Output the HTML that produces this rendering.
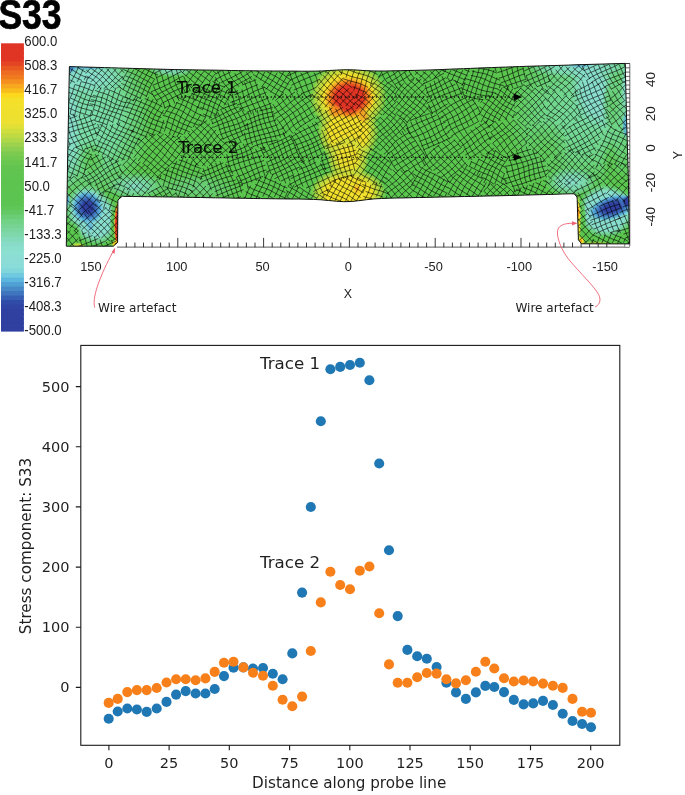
<!DOCTYPE html>
<html><head><meta charset="utf-8"><title>S33</title>
<style>html,body{margin:0;padding:0;background:#fff}svg{display:block}</style></head>
<body><svg width="685" height="795" viewBox="0 0 685 795">
<rect width="685" height="795" fill="#fff"/>
<defs><clipPath id="bc"><path d="M69.4 66.6 L76.4 66.8 L83.5 67.0 L90.5 67.2 L97.5 67.4 L104.6 67.6 L111.6 67.8 L118.6 68.0 L125.7 68.2 L132.7 68.4 L139.8 68.6 L146.8 68.8 L153.8 69.0 L160.9 69.2 L167.9 69.4 L174.9 69.6 L182.0 69.7 L189.0 69.8 L196.0 69.9 L203.1 70.0 L210.1 70.1 L217.1 70.2 L224.2 70.3 L231.2 70.5 L238.3 70.6 L245.3 70.7 L252.3 70.8 L259.4 70.9 L266.4 70.9 L273.4 71.0 L280.5 71.0 L287.5 71.1 L294.5 71.1 L301.6 71.2 L308.6 71.2 L315.6 71.1 L322.7 70.9 L329.7 70.5 L336.7 70.1 L343.8 69.8 L350.8 69.8 L357.9 70.1 L364.9 70.6 L371.9 70.9 L379.0 71.0 L386.0 71.0 L393.0 70.8 L400.1 70.7 L407.1 70.5 L414.1 70.4 L421.2 70.2 L428.2 70.0 L435.2 69.8 L442.3 69.5 L449.3 69.2 L456.3 68.9 L463.4 68.7 L470.4 68.4 L477.5 68.1 L484.5 67.8 L491.5 67.6 L498.6 67.3 L505.6 67.1 L512.6 66.8 L519.7 66.6 L526.7 66.3 L533.7 66.1 L540.8 65.9 L547.8 65.7 L554.8 65.5 L561.9 65.3 L568.9 65.1 L576.0 64.8 L583.0 64.6 L590.0 64.4 L597.1 64.2 L604.1 64.0 L611.1 63.8 L618.2 63.6 L625.2 63.4 L626.6 120.0 L628.4 180.0 L629.4 243.9 L581.6 243.8 L578.4 239.8 L577.2 199.5 L577.0 197.0 L574.2 193.8 L570.0 193.8 L562.5 194.0 L554.9 194.3 L547.4 194.5 L539.8 194.7 L532.3 194.9 L524.7 195.1 L517.2 195.3 L509.7 195.5 L502.1 195.7 L494.6 195.9 L487.0 196.0 L479.5 196.2 L471.9 196.4 L464.4 196.5 L456.9 196.7 L449.3 196.9 L441.8 197.0 L434.2 197.2 L426.7 197.4 L419.2 197.5 L411.6 197.7 L404.1 197.9 L396.5 198.0 L389.0 198.2 L381.4 198.5 L373.9 198.9 L366.4 199.7 L358.8 200.7 L351.3 201.5 L343.7 201.7 L336.2 201.2 L328.6 200.5 L321.1 199.8 L313.6 199.4 L306.0 199.2 L298.5 199.0 L290.9 199.0 L283.4 198.9 L275.8 198.8 L268.3 198.7 L260.8 198.6 L253.2 198.5 L245.7 198.3 L238.1 198.2 L230.6 198.1 L223.1 197.9 L215.5 197.8 L208.0 197.7 L200.4 197.5 L192.9 197.4 L185.3 197.3 L177.8 197.1 L170.3 197.0 L162.7 196.9 L155.2 196.8 L147.6 196.7 L140.1 196.6 L132.5 196.5 L125.0 196.4 L122.2 196.2 L117.9 200.0 L117.6 242.4 L113.3 246.2 L66.3 246.2 L67.6 160.0Z"/></clipPath><radialGradient id="g0"><stop offset="0" stop-color="#7ddfae" stop-opacity="1"/><stop offset="0.5" stop-color="#7ddfae" stop-opacity="0.8"/><stop offset="1" stop-color="#7ddfae" stop-opacity="0"/></radialGradient><radialGradient id="g1"><stop offset="0" stop-color="#8adfd2" stop-opacity="0.95"/><stop offset="0.5" stop-color="#8adfd2" stop-opacity="0.6"/><stop offset="1" stop-color="#8adfd2" stop-opacity="0"/></radialGradient><radialGradient id="g2"><stop offset="0" stop-color="#58b0dc" stop-opacity="0.9"/><stop offset="0.6" stop-color="#58b0dc" stop-opacity="0.6"/><stop offset="1" stop-color="#58b0dc" stop-opacity="0"/></radialGradient><radialGradient id="g3"><stop offset="0" stop-color="#8adfd2" stop-opacity="0.95"/><stop offset="0.5" stop-color="#8adfd2" stop-opacity="0.7"/><stop offset="1" stop-color="#8adfd2" stop-opacity="0"/></radialGradient><radialGradient id="g4"><stop offset="0" stop-color="#5ac64e" stop-opacity="0.9"/><stop offset="0.5" stop-color="#5ac64e" stop-opacity="0.6"/><stop offset="1" stop-color="#5ac64e" stop-opacity="0"/></radialGradient><radialGradient id="g5"><stop offset="0" stop-color="#8adfd2" stop-opacity="0.9"/><stop offset="0.5" stop-color="#8adfd2" stop-opacity="0.55"/><stop offset="1" stop-color="#8adfd2" stop-opacity="0"/></radialGradient><radialGradient id="g6"><stop offset="0" stop-color="#72d28a" stop-opacity="0.8"/><stop offset="0.5" stop-color="#72d28a" stop-opacity="0.5"/><stop offset="1" stop-color="#72d28a" stop-opacity="0"/></radialGradient><radialGradient id="g7"><stop offset="0" stop-color="#8adfd2" stop-opacity="0.95"/><stop offset="0.6" stop-color="#8adfd2" stop-opacity="0.55"/><stop offset="1" stop-color="#8adfd2" stop-opacity="0"/></radialGradient><radialGradient id="g8"><stop offset="0" stop-color="#58b0dc" stop-opacity="0.9"/><stop offset="0.6" stop-color="#58b0dc" stop-opacity="0.5"/><stop offset="1" stop-color="#58b0dc" stop-opacity="0"/></radialGradient><radialGradient id="g9"><stop offset="0" stop-color="#3c6cba" stop-opacity="1"/><stop offset="0.45" stop-color="#58b0dc" stop-opacity="0.9"/><stop offset="1" stop-color="#8adfd2" stop-opacity="0"/></radialGradient><radialGradient id="g10"><stop offset="0" stop-color="#7ddfae" stop-opacity="0.9"/><stop offset="0.5" stop-color="#7ddfae" stop-opacity="0.6"/><stop offset="1" stop-color="#7ddfae" stop-opacity="0"/></radialGradient><radialGradient id="g11"><stop offset="0" stop-color="#8adfd2" stop-opacity="1"/><stop offset="0.55" stop-color="#8adfd2" stop-opacity="0.85"/><stop offset="1" stop-color="#8adfd2" stop-opacity="0"/></radialGradient><radialGradient id="g12"><stop offset="0" stop-color="#8adfd2" stop-opacity="1"/><stop offset="0.5" stop-color="#8adfd2" stop-opacity="0.7"/><stop offset="1" stop-color="#8adfd2" stop-opacity="0"/></radialGradient><radialGradient id="g13"><stop offset="0" stop-color="#8adfd2" stop-opacity="0.95"/><stop offset="0.6" stop-color="#8adfd2" stop-opacity="0.6"/><stop offset="1" stop-color="#8adfd2" stop-opacity="0"/></radialGradient><radialGradient id="g14"><stop offset="0" stop-color="#58b0dc" stop-opacity="0.9"/><stop offset="0.6" stop-color="#58b0dc" stop-opacity="0.5"/><stop offset="1" stop-color="#58b0dc" stop-opacity="0"/></radialGradient><radialGradient id="g15"><stop offset="0" stop-color="#8adfd2" stop-opacity="0.95"/><stop offset="0.5" stop-color="#8adfd2" stop-opacity="0.65"/><stop offset="1" stop-color="#8adfd2" stop-opacity="0"/></radialGradient><radialGradient id="g16"><stop offset="0" stop-color="#62cc66" stop-opacity="0.95"/><stop offset="0.6" stop-color="#62cc66" stop-opacity="0.65"/><stop offset="1" stop-color="#62cc66" stop-opacity="0"/></radialGradient><radialGradient id="g17"><stop offset="0" stop-color="#58b0dc" stop-opacity="1"/><stop offset="0.6" stop-color="#58b0dc" stop-opacity="0.7"/><stop offset="1" stop-color="#8adfd2" stop-opacity="0"/></radialGradient><radialGradient id="g18"><stop offset="0" stop-color="#5ac64e" stop-opacity="0.9"/><stop offset="0.6" stop-color="#5ac64e" stop-opacity="0.55"/><stop offset="1" stop-color="#5ac64e" stop-opacity="0"/></radialGradient><radialGradient id="g19"><stop offset="0" stop-color="#5ac64e" stop-opacity="0.7"/><stop offset="0.6" stop-color="#5ac64e" stop-opacity="0.4"/><stop offset="1" stop-color="#5ac64e" stop-opacity="0"/></radialGradient><radialGradient id="g20"><stop offset="0" stop-color="#8adfd2" stop-opacity="1"/><stop offset="0.7" stop-color="#8adfd2" stop-opacity="0.95"/><stop offset="1" stop-color="#8adfd2" stop-opacity="0"/></radialGradient><radialGradient id="g21"><stop offset="0" stop-color="#3040a0" stop-opacity="1"/><stop offset="0.27" stop-color="#3040a0" stop-opacity="1"/><stop offset="0.48" stop-color="#3c6cba" stop-opacity="1"/><stop offset="0.72" stop-color="#58b0dc" stop-opacity="0.95"/><stop offset="1" stop-color="#8adfd2" stop-opacity="0"/></radialGradient><radialGradient id="g22"><stop offset="0" stop-color="#58b0dc" stop-opacity="0.8"/><stop offset="0.5" stop-color="#58b0dc" stop-opacity="0.5"/><stop offset="1" stop-color="#8adfd2" stop-opacity="0"/></radialGradient><radialGradient id="g23"><stop offset="0" stop-color="#3c6cba" stop-opacity="1"/><stop offset="0.5" stop-color="#58b0dc" stop-opacity="0.9"/><stop offset="1" stop-color="#8adfd2" stop-opacity="0"/></radialGradient><radialGradient id="g24"><stop offset="0" stop-color="#5ac64e" stop-opacity="1"/><stop offset="0.6" stop-color="#5ac64e" stop-opacity="0.8"/><stop offset="1" stop-color="#5ac64e" stop-opacity="0"/></radialGradient><radialGradient id="g25"><stop offset="0" stop-color="#5ac64e" stop-opacity="1"/><stop offset="0.6" stop-color="#5ac64e" stop-opacity="0.8"/><stop offset="1" stop-color="#5ac64e" stop-opacity="0"/></radialGradient><radialGradient id="g26"><stop offset="0" stop-color="#8adfd2" stop-opacity="1"/><stop offset="0.72" stop-color="#8adfd2" stop-opacity="0.95"/><stop offset="1" stop-color="#8adfd2" stop-opacity="0"/></radialGradient><radialGradient id="g27"><stop offset="0" stop-color="#3040a0" stop-opacity="1"/><stop offset="0.3" stop-color="#3040a0" stop-opacity="1"/><stop offset="0.52" stop-color="#3c6cba" stop-opacity="1"/><stop offset="0.76" stop-color="#58b0dc" stop-opacity="0.95"/><stop offset="1" stop-color="#8adfd2" stop-opacity="0"/></radialGradient><radialGradient id="g28"><stop offset="0" stop-color="#3040a0" stop-opacity="1"/><stop offset="0.45" stop-color="#3040a0" stop-opacity="1"/><stop offset="0.75" stop-color="#3c6cba" stop-opacity="0.9"/><stop offset="1" stop-color="#58b0dc" stop-opacity="0"/></radialGradient><radialGradient id="g29"><stop offset="0" stop-color="#5ac64e" stop-opacity="1"/><stop offset="0.6" stop-color="#5ac64e" stop-opacity="0.8"/><stop offset="1" stop-color="#5ac64e" stop-opacity="0"/></radialGradient><radialGradient id="g30"><stop offset="0" stop-color="#5ac64e" stop-opacity="1"/><stop offset="0.6" stop-color="#5ac64e" stop-opacity="0.8"/><stop offset="1" stop-color="#5ac64e" stop-opacity="0"/></radialGradient><radialGradient id="g31"><stop offset="0" stop-color="#5ac64e" stop-opacity="0.9"/><stop offset="0.6" stop-color="#5ac64e" stop-opacity="0.6"/><stop offset="1" stop-color="#5ac64e" stop-opacity="0"/></radialGradient><radialGradient id="g32"><stop offset="0" stop-color="#f2e02c" stop-opacity="1"/><stop offset="0.62" stop-color="#f2e02c" stop-opacity="1"/><stop offset="0.82" stop-color="#c6dc3e" stop-opacity="0.8"/><stop offset="1" stop-color="#c6dc3e" stop-opacity="0"/></radialGradient><radialGradient id="g33"><stop offset="0" stop-color="#f2e02c" stop-opacity="1"/><stop offset="0.6" stop-color="#f2e02c" stop-opacity="1"/><stop offset="0.82" stop-color="#c6dc3e" stop-opacity="0.75"/><stop offset="1" stop-color="#c6dc3e" stop-opacity="0"/></radialGradient><radialGradient id="g34"><stop offset="0" stop-color="#f2e02c" stop-opacity="1"/><stop offset="0.45" stop-color="#f2e02c" stop-opacity="0.9"/><stop offset="0.8" stop-color="#c6dc3e" stop-opacity="0.7"/><stop offset="1" stop-color="#c6dc3e" stop-opacity="0"/></radialGradient><radialGradient id="g35"><stop offset="0" stop-color="#f2e02c" stop-opacity="1"/><stop offset="0.6" stop-color="#f2e02c" stop-opacity="1"/><stop offset="0.82" stop-color="#c6dc3e" stop-opacity="0.8"/><stop offset="1" stop-color="#c6dc3e" stop-opacity="0"/></radialGradient><radialGradient id="g36"><stop offset="0" stop-color="#e03424" stop-opacity="1"/><stop offset="0.52" stop-color="#e03424" stop-opacity="1"/><stop offset="0.74" stop-color="#f59020" stop-opacity="1"/><stop offset="1" stop-color="#f2e02c" stop-opacity="0"/></radialGradient><radialGradient id="g37"><stop offset="0" stop-color="#f59020" stop-opacity="0.9"/><stop offset="0.5" stop-color="#f59020" stop-opacity="0.6"/><stop offset="1" stop-color="#f2e02c" stop-opacity="0"/></radialGradient><radialGradient id="g38"><stop offset="0" stop-color="#f59020" stop-opacity="0.8"/><stop offset="0.5" stop-color="#f59020" stop-opacity="0.5"/><stop offset="1" stop-color="#f2e02c" stop-opacity="0"/></radialGradient><radialGradient id="g39"><stop offset="0" stop-color="#f59020" stop-opacity="0.9"/><stop offset="1" stop-color="#f2e02c" stop-opacity="0"/></radialGradient><radialGradient id="g40"><stop offset="0" stop-color="#e03424" stop-opacity="1"/><stop offset="0.5" stop-color="#e03424" stop-opacity="1"/><stop offset="0.75" stop-color="#f59020" stop-opacity="0.9"/><stop offset="1" stop-color="#f2e02c" stop-opacity="0"/></radialGradient><radialGradient id="g41"><stop offset="0" stop-color="#f59020" stop-opacity="1"/><stop offset="0.5" stop-color="#f2e02c" stop-opacity="1"/><stop offset="1" stop-color="#f2e02c" stop-opacity="0"/></radialGradient><radialGradient id="g42"><stop offset="0" stop-color="#f2e02c" stop-opacity="1"/><stop offset="0.5" stop-color="#c6dc3e" stop-opacity="0.85"/><stop offset="1" stop-color="#c6dc3e" stop-opacity="0"/></radialGradient><radialGradient id="g43"><stop offset="0" stop-color="#f2e02c" stop-opacity="1"/><stop offset="0.6" stop-color="#f2e02c" stop-opacity="1"/><stop offset="1" stop-color="#c6dc3e" stop-opacity="0"/></radialGradient><radialGradient id="g44"><stop offset="0" stop-color="#f59020" stop-opacity="1"/><stop offset="0.6" stop-color="#f59020" stop-opacity="0.9"/><stop offset="1" stop-color="#f2e02c" stop-opacity="0"/></radialGradient><radialGradient id="g45"><stop offset="0" stop-color="#f59020" stop-opacity="1"/><stop offset="0.5" stop-color="#f2e02c" stop-opacity="1"/><stop offset="1" stop-color="#f2e02c" stop-opacity="0"/></radialGradient><radialGradient id="g46"><stop offset="0" stop-color="#f2e02c" stop-opacity="1"/><stop offset="0.5" stop-color="#c6dc3e" stop-opacity="0.85"/><stop offset="1" stop-color="#c6dc3e" stop-opacity="0"/></radialGradient><radialGradient id="g47"><stop offset="0" stop-color="#c6dc3e" stop-opacity="1"/><stop offset="1" stop-color="#c6dc3e" stop-opacity="0"/></radialGradient></defs>
<rect x="1" y="43.30" width="22.9" height="6.00" fill="#e03424"/><rect x="1" y="47.80" width="22.9" height="6.00" fill="#e03424"/><rect x="1" y="52.31" width="22.9" height="6.00" fill="#e03424"/><rect x="1" y="56.81" width="22.9" height="6.00" fill="#e03424"/><rect x="1" y="61.32" width="22.9" height="6.00" fill="#e44423"/><rect x="1" y="65.82" width="22.9" height="6.00" fill="#ea5822"/><rect x="1" y="70.33" width="22.9" height="6.00" fill="#ee6c22"/><rect x="1" y="74.83" width="22.9" height="6.00" fill="#f07a20"/><rect x="1" y="79.34" width="22.9" height="6.00" fill="#f59020"/><rect x="1" y="83.84" width="22.9" height="6.00" fill="#f8a820"/><rect x="1" y="88.35" width="22.9" height="6.00" fill="#f8bd1c"/><rect x="1" y="92.85" width="22.9" height="6.00" fill="#fbd81c"/><rect x="1" y="97.36" width="22.9" height="6.00" fill="#f5df29"/><rect x="1" y="101.86" width="22.9" height="6.00" fill="#f3e02b"/><rect x="1" y="106.37" width="22.9" height="6.00" fill="#f1e02d"/><rect x="1" y="110.87" width="22.9" height="6.00" fill="#efe02e"/><rect x="1" y="115.38" width="22.9" height="6.00" fill="#eee02f"/><rect x="1" y="119.88" width="22.9" height="6.00" fill="#ede030"/><rect x="1" y="124.38" width="22.9" height="6.00" fill="#e1e036"/><rect x="1" y="128.89" width="22.9" height="6.00" fill="#cfdd3d"/><rect x="1" y="133.39" width="22.9" height="6.00" fill="#bfda43"/><rect x="1" y="137.90" width="22.9" height="6.00" fill="#afd848"/><rect x="1" y="142.40" width="22.9" height="6.00" fill="#9dd24e"/><rect x="1" y="146.91" width="22.9" height="6.00" fill="#8bce50"/><rect x="1" y="151.41" width="22.9" height="6.00" fill="#7ccb50"/><rect x="1" y="155.92" width="22.9" height="6.00" fill="#71c950"/><rect x="1" y="160.42" width="22.9" height="6.00" fill="#69c750"/><rect x="1" y="164.93" width="22.9" height="6.00" fill="#63c550"/><rect x="1" y="169.43" width="22.9" height="6.00" fill="#60c450"/><rect x="1" y="173.94" width="22.9" height="6.00" fill="#5fc450"/><rect x="1" y="178.44" width="22.9" height="6.00" fill="#5ec450"/><rect x="1" y="182.95" width="22.9" height="6.00" fill="#5dc450"/><rect x="1" y="187.45" width="22.9" height="6.00" fill="#5cc450"/><rect x="1" y="191.95" width="22.9" height="6.00" fill="#5cc450"/><rect x="1" y="196.46" width="22.9" height="6.00" fill="#5cc450"/><rect x="1" y="200.96" width="22.9" height="6.00" fill="#5cc450"/><rect x="1" y="205.47" width="22.9" height="6.00" fill="#5fc658"/><rect x="1" y="209.97" width="22.9" height="6.00" fill="#64c865"/><rect x="1" y="214.48" width="22.9" height="6.00" fill="#6bcd75"/><rect x="1" y="218.98" width="22.9" height="6.00" fill="#71d184"/><rect x="1" y="223.49" width="22.9" height="6.00" fill="#76d391"/><rect x="1" y="227.99" width="22.9" height="6.00" fill="#7ad59f"/><rect x="1" y="232.50" width="22.9" height="6.00" fill="#7fd7ac"/><rect x="1" y="237.00" width="22.9" height="6.00" fill="#83daba"/><rect x="1" y="241.51" width="22.9" height="6.00" fill="#88dcc7"/><rect x="1" y="246.01" width="22.9" height="6.00" fill="#8adecc"/><rect x="1" y="250.52" width="22.9" height="6.00" fill="#8ce0d1"/><rect x="1" y="255.02" width="22.9" height="6.00" fill="#8cded4"/><rect x="1" y="259.53" width="22.9" height="6.00" fill="#8cdcd8"/><rect x="1" y="264.03" width="22.9" height="6.00" fill="#89dcd8"/><rect x="1" y="268.53" width="22.9" height="6.00" fill="#80d6db"/><rect x="1" y="273.04" width="22.9" height="6.00" fill="#6fc9df"/><rect x="1" y="277.54" width="22.9" height="6.00" fill="#5db6dd"/><rect x="1" y="282.05" width="22.9" height="6.00" fill="#50a0d4"/><rect x="1" y="286.55" width="22.9" height="6.00" fill="#488ac8"/><rect x="1" y="291.06" width="22.9" height="6.00" fill="#3f75be"/><rect x="1" y="295.56" width="22.9" height="6.00" fill="#365eb3"/><rect x="1" y="300.07" width="22.9" height="6.00" fill="#314ba9"/><rect x="1" y="304.57" width="22.9" height="6.00" fill="#3044a4"/><rect x="1" y="309.08" width="22.9" height="6.00" fill="#3040a0"/><rect x="1" y="313.58" width="22.9" height="6.00" fill="#3040a0"/><rect x="1" y="318.09" width="22.9" height="6.00" fill="#3040a0"/><rect x="1" y="322.59" width="22.9" height="6.00" fill="#3040a0"/><rect x="1" y="327.10" width="22.9" height="4.50" fill="#3040a0"/><g font-family="'Liberation Sans',sans-serif" font-size="14.4px" fill="#1c1c1c"><text transform="translate(24.3 45.9) scale(0.915 1)">600.0</text><text transform="translate(24.3 70.0) scale(0.915 1)">508.3</text><text transform="translate(24.3 94.1) scale(0.915 1)">416.7</text><text transform="translate(24.3 118.3) scale(0.915 1)">325.0</text><text transform="translate(24.3 142.4) scale(0.915 1)">233.3</text><text transform="translate(24.3 166.5) scale(0.915 1)">141.7</text><text transform="translate(24.3 190.6) scale(0.915 1)">50.0</text><text transform="translate(24.3 214.7) scale(0.915 1)">-41.7</text><text transform="translate(24.3 238.9) scale(0.915 1)">-133.3</text><text transform="translate(24.3 263.0) scale(0.915 1)">-225.0</text><text transform="translate(24.3 287.1) scale(0.915 1)">-316.7</text><text transform="translate(24.3 311.2) scale(0.915 1)">-408.3</text><text transform="translate(24.3 335.3) scale(0.915 1)">-500.0</text></g>
<text transform="translate(-1.6 28.7) scale(0.85 1)" font-family="'Liberation Sans',sans-serif" font-weight="bold" font-size="41.8px" fill="#000" stroke="#000" stroke-width="0.7">S33</text>
<path d="M117 247.2H629" stroke="#777" stroke-width="1.2" fill="none"/><path d="M126.3 247.3v-4.7M134.9 247.3v-4.7M143.5 247.3v-4.7M152.1 247.3v-4.7M160.6 247.3v-4.7M169.2 247.3v-4.7M177.8 247.3v-9.4M186.4 247.3v-4.7M195.0 247.3v-4.7M203.5 247.3v-4.7M212.1 247.3v-4.7M220.7 247.3v-4.7M229.3 247.3v-4.7M237.9 247.3v-4.7M246.4 247.3v-4.7M255.0 247.3v-4.7M263.6 247.3v-9.4M272.2 247.3v-4.7M280.8 247.3v-4.7M289.3 247.3v-4.7M297.9 247.3v-4.7M306.5 247.3v-4.7M315.1 247.3v-4.7M323.7 247.3v-4.7M332.2 247.3v-4.7M340.8 247.3v-4.7M349.4 247.3v-9.4M358.0 247.3v-4.7M366.6 247.3v-4.7M375.1 247.3v-4.7M383.7 247.3v-4.7M392.3 247.3v-4.7M400.9 247.3v-4.7M409.5 247.3v-4.7M418.0 247.3v-4.7M426.6 247.3v-4.7M435.2 247.3v-9.4M443.8 247.3v-4.7M452.4 247.3v-4.7M460.9 247.3v-4.7M469.5 247.3v-4.7M478.1 247.3v-4.7M486.7 247.3v-4.7M495.3 247.3v-4.7M503.8 247.3v-4.7M512.4 247.3v-4.7M521.0 247.3v-9.4M529.6 247.3v-4.7M538.2 247.3v-4.7M546.7 247.3v-4.7M555.3 247.3v-4.7M563.9 247.3v-4.7M572.5 247.3v-4.7M581.1 247.3v-4.7M589.6 247.3v-4.7M598.2 247.3v-4.7M606.8 247.3v-9.4" stroke="#222" stroke-width="0.9" fill="none"/><path d="M625.2 63.5V246M629.8 63.5V246M625.2 63.5h4.6M625.2 63.5h4.6M625.2 67.8h4.6M625.2 72.1h4.6M625.2 76.4h4.6M625.2 80.7h4.6M625.2 85.0h4.6M625.2 89.3h4.6M625.2 93.6h4.6M625.2 97.9h4.6M625.2 102.2h4.6M625.2 106.5h4.6M625.2 110.8h4.6M625.2 115.1h4.6M625.2 119.4h4.6M625.2 123.7h4.6M625.2 128.0h4.6M625.2 132.3h4.6M625.2 136.6h4.6M625.2 140.9h4.6M625.2 145.2h4.6M625.2 149.5h4.6M625.2 153.8h4.6M625.2 158.1h4.6M625.2 162.4h4.6M625.2 166.7h4.6M625.2 171.0h4.6M625.2 175.3h4.6M625.2 179.6h4.6M625.2 183.9h4.6M625.2 188.2h4.6M625.2 192.5h4.6M625.2 196.8h4.6M625.2 201.1h4.6M625.2 205.4h4.6M625.2 209.7h4.6M625.2 214.0h4.6M625.2 218.3h4.6M625.2 222.6h4.6M625.2 226.9h4.6M625.2 231.2h4.6M625.2 235.5h4.6M625.2 239.8h4.6M625.2 244.1h4.6" stroke="#333" stroke-width="0.75" fill="none"/><rect x="624.8" y="243.6" width="4.6" height="3.6" fill="#fff" stroke="#777" stroke-width="0.8"/>
<g clip-path="url(#bc)"><rect x="60" y="55" width="580" height="200" fill="#5ac64e"/><ellipse cx="88" cy="115" rx="64" ry="88" fill="url(#g0)"/><ellipse cx="88" cy="76" rx="46" ry="21" fill="url(#g1)"/><ellipse cx="86" cy="67" rx="24" ry="3.2" fill="url(#g2)"/><ellipse cx="69" cy="125" rx="13" ry="70" fill="url(#g3)"/><ellipse cx="92" cy="160" rx="14" ry="20" fill="url(#g4)"/><ellipse cx="135" cy="186" rx="30" ry="14" fill="url(#g5)"/><ellipse cx="195" cy="188" rx="45" ry="15" fill="url(#g6)"/><ellipse cx="172" cy="69" rx="24" ry="8" fill="url(#g7)"/><ellipse cx="166" cy="67" rx="9" ry="3.5" fill="url(#g8)"/><ellipse cx="70.5" cy="68" rx="8" ry="7" fill="url(#g9)"/><ellipse cx="585" cy="115" rx="80" ry="80" fill="url(#g10)"/><ellipse cx="596" cy="94" rx="24" ry="40" fill="url(#g11)" transform="rotate(-22 596 94)"/><ellipse cx="625" cy="88" rx="4" ry="30" fill="url(#g12)"/><ellipse cx="580" cy="67" rx="55" ry="11" fill="url(#g13)"/><ellipse cx="580" cy="64.5" rx="13" ry="4" fill="url(#g14)"/><ellipse cx="571" cy="182" rx="26" ry="15" fill="url(#g15)"/><ellipse cx="612" cy="104" rx="10" ry="30" fill="url(#g16)"/><ellipse cx="625.5" cy="125" rx="3.5" ry="15" fill="url(#g17)"/><ellipse cx="611" cy="165" rx="9" ry="26" fill="url(#g18)"/><ellipse cx="548" cy="150" rx="22" ry="30" fill="url(#g19)"/><ellipse cx="92" cy="215" rx="25" ry="32" fill="url(#g20)" transform="rotate(-30 92 215)"/><ellipse cx="87.5" cy="207.5" rx="17" ry="19" fill="url(#g21)" transform="rotate(-30 87.5 207.5)"/><ellipse cx="90" cy="226" rx="5" ry="7" fill="url(#g22)" transform="rotate(-20 90 226)"/><ellipse cx="66" cy="200" rx="5" ry="9" fill="url(#g23)"/><ellipse cx="113.5" cy="225" rx="3.5" ry="24" fill="url(#g24)"/><ellipse cx="73" cy="234" rx="9" ry="14" fill="url(#g25)"/><ellipse cx="606" cy="211" rx="29" ry="27" fill="url(#g26)"/><ellipse cx="612" cy="207.5" rx="26" ry="13" fill="url(#g27)" transform="rotate(-16 612 207.5)"/><ellipse cx="628" cy="202" rx="8" ry="6.5" fill="url(#g28)"/><ellipse cx="582.5" cy="222" rx="4" ry="26" fill="url(#g29)"/><ellipse cx="604" cy="242" rx="30" ry="7" fill="url(#g30)"/><ellipse cx="617" cy="180" rx="14" ry="11" fill="url(#g31)"/><ellipse cx="348" cy="97" rx="39" ry="36" fill="url(#g32)"/><ellipse cx="348" cy="132" rx="31" ry="34" fill="url(#g33)"/><ellipse cx="348" cy="160" rx="21" ry="24" fill="url(#g34)"/><ellipse cx="348" cy="192" rx="38" ry="24" fill="url(#g35)"/><ellipse cx="349" cy="98" rx="27" ry="23" fill="url(#g36)"/><ellipse cx="335" cy="112" rx="9" ry="8" fill="url(#g37)"/><ellipse cx="363" cy="116" rx="8" ry="8" fill="url(#g38)"/><ellipse cx="357" cy="189" rx="5" ry="7" fill="url(#g39)"/><ellipse cx="117.4" cy="226" rx="3.6" ry="25" fill="url(#g40)"/><ellipse cx="116" cy="244" rx="5" ry="4" fill="url(#g41)"/><ellipse cx="78" cy="246.5" rx="8" ry="4.5" fill="url(#g42)"/><ellipse cx="578" cy="220" rx="3.2" ry="27" fill="url(#g43)"/><ellipse cx="577.5" cy="212" rx="2.5" ry="8" fill="url(#g44)"/><ellipse cx="581" cy="241" rx="4" ry="5" fill="url(#g45)"/><ellipse cx="596" cy="245.5" rx="20" ry="4.5" fill="url(#g46)"/><ellipse cx="615" cy="245" rx="6" ry="3" fill="url(#g47)"/><path d="M101.2 87.5 98.8 92.3 97.0 96.7 95.7 101.0 94.6 105.2 93.3 109.7 91.8 114.6M105.4 89.1 103.3 93.6 101.8 98.0 100.8 102.4 99.7 106.9 98.2 111.6 96.4 116.5 94.5 121.0M109.7 90.5 108.0 95.2 106.7 99.9 105.6 104.5 104.3 109.0 102.6 113.4 100.6 117.9 98.7 122.1M116.0 87.7 114.2 92.4 112.5 97.5 111.2 102.4 110.0 106.7 108.4 110.7 106.4 114.7 104.4 118.9 102.7 123.3M120.6 89.6 118.7 94.7 117.0 99.9 115.4 104.5 113.9 108.4 112.2 112.0 110.2 115.9 108.3 120.4 106.8 125.1M123.2 97.0 121.2 101.8 119.5 105.9 117.9 109.5 116.2 113.2 114.3 117.6 112.6 122.6M127.6 98.5 125.6 103.1 123.9 106.9 122.3 110.7 120.7 114.9 119.0 119.9 117.3 125.1M105.8 88.9 110.2 90.3 114.7 92.2 119.2 94.5 123.7 96.7 128.1 98.3M95.1 90.4 99.3 92.0 103.8 93.3 108.4 95.0 113.0 97.3 117.4 99.7 121.7 101.6 126.1 102.8M92.9 95.3 97.5 96.5 102.3 97.8 107.1 99.8 111.6 102.2 115.8 104.3 120.0 105.7 124.3 106.7 129.0 108.0M91.2 99.6 96.1 100.7 101.2 102.2 106.0 104.4 110.4 106.6 114.3 108.2 118.4 109.3 122.8 110.5 127.6 112.1M89.8 103.7 95.0 104.9 100.1 106.7 104.7 108.8 108.8 110.6 112.6 111.8 116.6 113.0 121.2 114.7 126.1 116.7M93.8 109.5 98.7 111.4 103.0 113.2 106.8 114.5 110.6 115.7 114.8 117.4 119.4 119.7 124.4 121.9M92.2 114.4 96.9 116.2 101.0 117.6 104.8 118.7 108.7 120.2 113.1 122.4M95.0 120.8 99.1 121.9 103.1 123.1 107.2 125.0M531.0 149.2 526.0 150.7 521.1 152.3 516.2 154.0 511.6 155.6 507.2 157.0M537.4 152.6 532.8 154.0 528.2 155.5 523.5 156.9 518.6 158.2 513.7 159.5 508.7 160.7M538.9 157.2 534.6 158.5 530.3 159.9 525.8 161.3 520.9 162.8 515.6 164.1 510.1 165.4 504.7 166.5M544.6 161.1 540.2 162.0 536.0 163.0 531.8 164.3 527.3 165.8 522.3 167.6 516.9 169.3 511.3 170.9 506.0 172.3M545.9 165.9 541.3 167.0 536.8 168.0 532.4 169.2 527.8 170.7 522.9 172.5 517.8 174.5 512.7 176.3 507.7 177.9 503.0 179.1M547.7 170.2 542.7 171.7 537.7 173.1 532.9 174.5 528.2 176.0 523.5 177.6 519.0 179.3 514.4 180.9 509.8 182.4 505.1 183.7M544.5 176.4 539.1 178.0 534.1 179.6 529.4 181.2 525.1 182.7 520.8 184.1 516.5 185.4 511.8 186.5M518.5 190.1 513.6 191.4M540.4 158.1 541.6 163.1 542.8 167.9 544.5 172.5 546.4 177.4M532.7 150.1 534.5 154.9 536.1 159.3 537.3 164.0 538.2 169.0 539.3 174.0 541.0 178.9M526.2 146.5 527.8 151.6 530.0 156.3 531.9 160.7 533.1 165.1 533.7 170.2 534.3 175.5 535.8 180.5M521.1 148.3 522.9 153.1 525.4 157.7 527.5 162.1 528.7 166.6 529.1 171.6 529.6 177.0 531.1 182.0M516.1 150.2 518.1 154.7 520.6 159.1 522.7 163.6 523.8 168.3 524.3 173.3 525.0 178.6 526.7 183.5M511.4 152.0 513.4 156.2 515.6 160.3 517.4 165.1 518.6 170.2 519.4 175.3 520.6 180.2 522.5 184.9 524.7 189.5M507.1 153.6 508.8 157.6 510.4 161.5 511.9 166.4 513.1 172.0 514.4 177.1 516.1 181.7 518.2 186.2 520.2 191.0M506.4 167.7 507.7 173.5 509.5 178.8 511.5 183.1 513.6 187.4 515.3 192.4M504.7 180.1 506.9 184.4M102.9 123.1 100.9 127.4 98.7 131.8 96.6 136.6M106.9 125.7 105.0 130.2 102.9 134.7 100.6 139.2 98.5 143.7 96.5 147.9 94.2 151.6M113.1 124.2 111.2 128.8 109.2 133.1 106.9 137.2 104.6 141.2 102.4 145.3 100.3 149.2 98.2 153.1M120.0 122.5 117.8 127.3 115.7 131.5 113.5 135.3 111.1 139.0 108.6 142.8 106.5 146.9 104.5 151.1 102.5 155.3M124.8 125.2 122.5 129.6 120.3 133.4 118.0 137.0 115.5 140.8 113.0 145.0 110.9 149.4 109.0 153.8 107.0 158.1M129.3 127.2 127.0 131.4 124.8 135.2 122.5 139.0 119.9 143.2 117.5 147.8 115.5 152.4 113.5 156.6 111.3 160.6M133.4 129.1 131.3 133.3 129.1 137.2 126.8 141.4 124.3 146.0 122.0 150.6 119.9 154.9 117.8 158.8 115.3 162.6M135.3 135.3 133.3 139.3 131.0 143.7 128.5 148.3 126.2 152.8 124.1 156.8 121.9 160.7M139.4 137.2 137.3 141.2 134.9 145.5 132.4 150.1 130.2 154.6 128.2 158.8M116.3 123.5 121.0 126.4 125.7 128.5 130.1 130.3 134.1 132.3M109.7 125.0 114.2 128.2 118.9 130.7 123.5 132.5 127.9 134.3 132.1 136.4 136.2 138.3 140.2 140.1M99.7 124.3 103.7 126.5 107.8 129.5 112.2 132.4 116.7 134.4 121.2 136.1 125.6 138.2 129.9 140.5 134.0 142.5 137.9 144.3M97.5 128.5 101.7 131.0 105.8 133.9 110.0 136.3 114.3 138.0 118.7 139.9 123.2 142.4 127.5 144.9 131.5 147.0 135.4 148.9M95.3 132.9 99.5 135.6 103.5 138.2 107.6 140.1 111.8 141.8 116.2 144.2 120.7 147.0 125.0 149.6 129.1 151.6 133.0 153.5M97.4 140.4 101.3 142.6 105.2 144.1 109.5 146.0 114.0 148.7 118.5 151.6 122.8 154.0 126.9 155.8 131.0 157.9M95.4 145.0 99.2 146.7 103.2 148.1 107.5 150.2 112.0 153.1 116.5 155.9 120.8 157.9 124.9 159.8M93.3 149.1 97.1 150.5 101.2 152.1 105.6 154.6 110.1 157.4 114.4 159.8M329.7 71.0 326.9 74.8 323.4 79.0 319.5 83.5 315.6 87.9M335.9 70.5 333.0 74.1 329.8 78.0 326.2 82.3 322.4 86.7 319.0 90.8 316.0 94.3 313.1 97.7M339.4 73.9 336.3 77.6 332.9 81.5 329.3 85.7 325.8 89.8 322.8 93.5 320.2 97.1 317.3 100.7M343.4 77.7 340.2 81.4 336.7 85.3 333.2 89.3 329.9 93.0 327.1 96.6 324.3 100.2 321.2 104.2 317.7 108.5M348.0 81.2 344.8 85.0 341.1 88.8 337.5 92.5 334.3 96.0 331.3 99.5 328.2 103.2 324.7 107.4M349.2 88.1 345.4 92.0 341.7 95.6 338.4 98.9 335.1 102.4 331.7 106.3M352.9 91.6 349.1 95.5 345.4 99.0 342.1 102.3 338.7 106.0M356.0 95.4 352.3 99.1 348.9 102.5 345.7 106.0M355.7 102.0 352.6 105.5M338.5 70.4 342.2 74.0M332.2 70.8 335.5 74.0 339.1 77.6 343.4 81.4 348.0 84.7 352.3 87.8M326.0 71.3 329.4 74.5 332.4 77.7 335.8 81.4 340.0 85.2 344.5 88.5 348.5 91.8 351.9 95.5 355.1 99.0M323.0 75.2 326.1 78.6 328.8 81.9 332.2 85.5 336.3 89.1 340.8 92.3 344.8 95.5 348.3 99.1 351.7 102.4 355.4 105.2M319.4 79.4 322.3 83.0 325.2 86.2 328.7 89.5 333.0 92.8 337.3 95.8 341.3 98.9 344.9 102.4 348.6 105.9M318.4 87.5 321.7 90.3 325.7 93.3 330.0 96.3 334.2 99.2 338.0 102.3 341.6 106.0M315.0 91.4 318.8 94.0 323.0 96.9 327.2 99.9 331.0 102.8 334.5 106.1M311.9 94.9 316.0 97.4 320.2 100.5 324.1 103.8 327.5 106.9M317.0 104.5 320.6 108.1M465.0 82.2 463.4 87.4 461.7 92.5M473.7 70.1 472.7 74.4 471.2 78.8 469.5 83.6 467.7 89.0 466.0 94.0M479.5 66.7 478.5 71.2 477.3 75.3 475.5 79.8 473.5 85.0 471.7 90.5 470.2 95.7 468.8 100.0M484.4 67.7 483.2 72.0 481.6 76.3 479.5 81.1 477.5 86.7 475.9 92.2 474.8 97.1 473.5 101.2M489.2 68.6 487.7 73.1 485.9 77.8 483.8 83.1 482.0 88.6 480.8 93.6 479.9 98.0 478.6 101.9M494.0 70.1 492.3 75.0 490.5 80.1 488.7 85.1 487.3 90.0 486.3 94.5 485.3 98.7M497.1 77.4 495.5 82.1 494.0 86.6 492.8 91.1 491.8 95.5M500.6 83.5 499.4 87.8M477.7 67.8 482.5 68.8 487.3 69.7 492.0 71.0 496.8 73.1M471.8 71.1 476.7 72.2 481.3 73.0 485.8 74.0 490.3 75.9 495.1 78.2 500.0 80.2M470.8 75.4 475.4 76.4 479.7 77.3 483.9 78.8 488.4 81.0 493.4 83.0 498.6 84.5 503.7 85.6M464.4 78.3 469.3 79.8 473.6 81.0 477.6 82.3 481.8 84.2 486.6 86.1 491.9 87.7 497.4 88.8M463.0 83.2 467.6 84.8 471.7 86.3 475.6 87.9 480.1 89.7 485.2 91.1 490.8 92.1 496.2 93.3M461.4 88.5 465.9 90.1 469.9 91.7 474.1 93.4 478.9 94.7 484.3 95.6 489.8 96.5M464.1 95.0 468.4 96.6 472.9 98.1 477.9 99.0 483.2 99.7M290.0 135.6 286.2 137.7 282.3 139.7 278.0 141.6 273.5 143.3 268.9 145.0M292.2 138.8 288.0 140.9 283.8 143.0 279.4 145.2 275.1 147.3 270.9 149.3 266.8 151.4 262.7 153.3M294.3 142.7 289.7 144.7 285.2 146.9 280.9 149.2 277.0 151.6 273.2 153.8 269.3 155.8 265.2 157.8M296.1 147.3 291.2 149.4 286.8 151.7 282.7 154.1 279.0 156.3 275.4 158.3 271.6 160.1 267.4 161.9M297.6 151.7 293.0 154.1 288.7 156.6 284.8 158.9 281.2 161.0 277.4 162.8 273.3 164.4 268.9 166.1M299.6 155.7 295.3 158.2 291.2 160.6 287.3 162.9 283.3 165.0 279.2 166.9 274.8 168.7 270.3 170.4 265.9 172.3M302.1 160.0 298.2 162.1 294.1 164.2 289.9 166.3 285.5 168.5 281.0 170.6 276.5 172.7 272.1 174.7M301.1 166.5 296.8 168.2 292.3 170.2 287.6 172.3 282.9 174.6 278.5 176.8 274.3 178.9M294.0 174.7 289.3 176.9 284.8 179.2 280.7 181.3M289.2 135.4 291.4 138.6 293.4 142.4 295.2 146.9 296.7 151.5 298.6 155.5 301.2 159.7 304.1 164.3M283.5 133.7 285.4 137.6 287.2 140.7 288.8 144.4 290.4 149.0 292.1 153.8 294.3 158.0 297.2 161.8 300.1 166.1M281.5 139.5 282.9 142.8 284.4 146.6 285.9 151.4 287.8 156.3 290.3 160.4 293.2 164.0 295.9 167.9 297.9 172.3M277.2 141.3 278.6 144.9 280.1 148.9 281.9 153.7 284.0 158.6 286.4 162.7 289.0 166.1 291.4 169.9 293.1 174.4M272.6 143.0 274.3 147.0 276.2 151.2 278.2 155.9 280.3 160.6 282.5 164.7 284.6 168.3 286.7 172.1 288.4 176.6 289.9 181.1M268.0 144.7 270.0 149.0 272.3 153.4 274.6 157.9 276.6 162.4 278.3 166.6 280.1 170.4 282.0 174.3 284.0 178.8 285.8 183.4M263.5 146.5 265.9 151.0 268.4 155.5 270.7 159.8 272.5 164.1 274.0 168.3 275.6 172.4 277.6 176.5 279.8 180.9M266.5 161.6 268.1 165.7 269.5 170.1 271.2 174.4M223.4 162.8 219.2 164.6 215.0 166.5 210.8 168.4 206.6 170.1 202.3 171.6M229.0 165.2 224.9 167.1 220.7 169.0 216.5 171.0 212.3 172.8 208.1 174.5 203.8 175.9 199.5 177.2M231.0 169.9 226.8 171.6 222.6 173.3 218.3 175.0 213.9 176.9 209.7 178.6 205.6 180.3 201.4 181.9M233.4 175.2 229.1 176.5 224.6 177.8 220.2 179.3 215.8 180.9 211.6 182.8 207.5 184.7M235.7 179.9 231.2 181.2 226.6 182.4 222.0 183.8 217.6 185.4 213.3 187.2 209.2 189.1M241.6 182.0 237.2 183.5 232.7 185.0 228.1 186.5 223.5 188.1 219.1 189.9 214.7 191.7M242.6 185.3 238.3 186.9 233.9 188.5 229.4 190.2 224.9 192.1 220.4 194.0 215.8 195.9M243.6 189.7 239.4 191.2 235.3 192.8 231.0 194.4 226.5 196.1 221.9 198.0M241.0 196.6 237.1 198.1 232.9 199.5M236.1 176.7 238.1 181.0 239.4 184.2 240.4 187.8 241.6 192.7M225.6 163.8 227.2 168.1 229.4 172.9 231.8 177.9 233.7 182.3 235.0 185.7 236.1 189.4 237.5 194.2 239.4 199.6M220.0 161.2 221.4 165.7 223.1 169.9 225.1 174.4 227.3 179.1 229.0 183.5 230.4 187.3 231.7 191.1 233.4 195.8 235.4 201.1M215.7 162.9 217.2 167.6 218.9 171.8 220.7 176.0 222.7 180.4 224.4 184.9 225.9 189.0 227.3 192.9 229.1 197.3M211.5 164.8 213.1 169.5 214.6 173.7 216.4 177.7 218.2 182.0 219.9 186.5 221.3 190.8 222.7 194.8 224.5 199.0M207.4 166.6 208.9 171.2 210.4 175.5 212.1 179.5 213.9 183.7 215.6 188.3 216.9 192.7 218.1 196.7M203.1 168.4 204.6 172.7 206.1 177.1 207.9 181.4 209.8 185.7 211.4 190.1M465.8 97.6 461.2 99.8 456.4 102.1 451.8 104.6 447.3 107.5 442.9 110.6 438.1 113.6M472.9 99.4 468.3 101.8 463.8 104.2 459.5 106.6 455.2 109.1 450.7 111.8 445.9 114.6 440.7 117.3M475.8 103.0 471.1 105.8 466.7 108.7 462.5 111.5 458.2 114.3 453.5 116.9 448.3 119.4 443.0 122.1M478.5 107.2 473.7 110.3 469.3 113.5 465.0 116.5 460.4 119.2 455.4 121.8 450.2 124.4 445.1 127.3M480.9 112.6 476.3 115.7 471.8 118.8 467.2 121.5 462.4 123.9 457.3 126.2 452.3 128.8 447.7 131.8M479.2 120.9 474.6 123.7 469.8 126.2 464.8 128.5 460.0 130.9 455.5 133.4 451.2 136.2M471.9 99.2 474.8 102.9 477.5 106.9 479.9 112.2M462.7 92.7 464.9 97.3 467.3 101.6 470.1 105.7 472.7 110.1 475.3 115.4 478.1 120.7M457.8 95.3 460.1 99.6 462.8 103.9 465.7 108.4 468.3 113.2 470.8 118.4 473.5 123.4M452.6 97.7 455.3 101.9 458.4 106.3 461.5 111.2 464.1 116.2 466.3 121.1 468.7 125.9M450.7 104.5 454.1 108.8 457.2 113.9 459.5 118.9 461.4 123.6 463.7 128.2 466.8 132.8M446.2 107.4 449.7 111.6 452.5 116.5 454.5 121.5 456.3 126.0 458.9 130.6 462.4 135.4M441.8 110.5 444.8 114.4 447.3 119.1 449.2 124.1 451.3 128.6 454.4 133.1 458.2 138.0M70.6 230.2 66.8 233.9M78.4 230.8 74.5 234.2 70.7 237.9 66.9 241.7M78.2 238.6 74.3 242.3 70.2 245.9M74.3 230.4 78.2 234.6M66.7 230.3 70.5 233.9 74.3 238.2 77.8 242.5M66.8 237.7 70.4 242.0 73.7 246.1M237.1 103.3 232.5 105.0 228.0 106.6 223.9 108.1 220.2 109.8M238.6 106.8 234.2 108.6 230.0 110.4 226.1 112.3 222.4 114.2 218.7 116.2 214.7 118.2 210.4 120.1M241.0 110.5 236.8 112.4 232.7 114.2 228.7 116.1 224.7 118.0 220.6 120.0 216.3 121.9 212.0 123.8M247.8 113.2 243.7 115.1 239.7 117.0 235.5 118.9 231.2 120.6 226.7 122.2 222.2 123.8 217.7 125.5 213.4 127.4M246.1 119.9 242.1 122.0 237.8 123.9 233.1 125.4 228.2 126.8 223.4 128.2 218.9 129.8M247.9 123.9 243.8 126.1 239.3 128.1 234.4 129.8 229.4 131.4 224.7 132.9 220.4 134.6M245.0 129.7 240.5 131.7 235.8 133.5 231.1 135.3 226.7 137.2 222.5 139.2M242.0 135.6 237.8 137.5 233.6 139.4 229.4 141.3 225.3 143.3M240.3 142.4 236.5 144.3 232.5 146.0M239.9 107.1 242.3 111.0 245.0 115.6 247.2 120.2M232.4 101.1 233.5 105.4 235.4 108.9 238.0 112.8 240.9 117.6 243.2 122.4 244.8 126.4 246.0 130.0M227.8 102.6 229.1 107.0 231.2 110.8 234.0 114.7 236.8 119.5 238.9 124.4 240.3 128.4 241.6 132.0 243.1 136.1M225.0 108.6 227.2 112.6 229.9 116.6 232.4 121.2 234.2 126.0 235.5 130.2 236.9 133.8 238.9 138.0 241.4 143.0M221.2 110.3 223.5 114.5 225.9 118.4 227.9 122.7 229.3 127.5 230.6 131.8 232.3 135.7 234.8 139.9 237.7 144.9M217.6 112.2 219.8 116.5 221.7 120.3 223.2 124.3 224.5 128.8 225.8 133.4 227.9 137.6 230.8 141.8 233.8 146.6M213.9 114.3 215.8 118.6 217.4 122.2 218.7 125.9 219.9 130.3 221.5 135.1 223.7 139.6M211.6 120.5 213.0 124.1M561.6 152.7 557.9 156.5 554.2 160.1 550.7 163.5 547.5 166.6M571.3 149.0 568.1 152.2 564.7 155.7 561.1 159.3 557.6 162.8 554.4 166.1 551.4 169.2 548.3 172.5 545.0 176.0M574.2 151.5 571.0 154.7 567.7 158.2 564.3 161.8 561.3 165.3 558.5 168.7 555.7 172.2 552.5 175.8 549.0 179.6M580.4 151.2 577.2 154.4 574.0 157.9 570.7 161.5 567.7 165.1 565.0 168.6 562.4 172.1 559.5 175.8 556.2 179.7M583.7 154.6 580.4 158.1 577.1 161.9 573.9 165.5 571.0 168.9 568.4 172.3 565.7 175.8 562.7 179.4 559.2 183.1M590.5 154.6 587.2 158.3 583.8 162.1 580.4 165.8 577.2 169.2 574.3 172.3 571.5 175.4 568.6 178.7 565.3 182.1M594.1 157.8 590.8 161.7 587.3 165.6 583.9 169.0 580.6 172.0 577.7 174.9 574.7 177.9 571.5 181.1 567.9 184.5M594.3 165.1 590.9 168.7 587.6 171.9 584.4 174.7 581.4 177.6 578.2 180.7 574.7 184.1M594.6 171.7 591.5 174.7 588.5 177.7M586.5 154.6 590.1 158.1 593.7 161.5M576.8 151.3 579.9 154.4 583.2 158.3 586.7 162.0 590.3 165.4 593.9 168.5M567.6 149.1 570.7 151.8 573.6 154.5 576.7 158.0 579.9 162.0 583.3 165.8 586.8 168.9 590.6 171.8 594.4 174.7M564.4 152.5 567.4 155.2 570.4 158.0 573.4 161.6 576.6 165.7 579.9 169.1 583.5 171.9 587.4 174.7 591.4 177.7M560.8 156.2 563.9 158.8 567.1 161.6 570.3 165.2 573.6 169.1 576.9 172.2 580.5 174.8 584.4 177.6 588.4 180.9M553.9 156.7 557.1 159.8 560.5 162.3 564.0 165.1 567.5 168.7 570.8 172.3 574.1 175.1 577.5 177.7 581.2 180.8M550.3 160.3 553.6 163.3 557.4 165.7 561.3 168.6 565.0 172.2 568.2 175.6 571.1 178.3 574.2 180.8 577.7 184.2M546.9 163.5 550.4 166.4 554.5 169.0 558.6 172.1 562.3 175.8 565.2 179.2 567.9 181.6 570.7 184.2M547.3 169.5 551.5 172.4 555.6 175.8 559.1 179.6 561.8 182.8M548.2 175.9 552.1 179.6M74.0 176.3 69.8 179.8 65.7 183.6M82.1 176.9 77.8 180.1 73.2 183.5 68.8 187.3 65.1 191.2M86.0 180.5 81.3 183.9 76.6 187.5 72.4 191.4 68.9 195.2 65.3 199.0M89.3 183.7 84.7 187.5 80.5 191.5 76.9 195.3 73.5 199.0 69.8 202.7M92.5 187.4 88.4 191.6 84.9 195.7 81.7 199.4 78.3 202.8 74.4 206.4M95.8 191.8 92.2 196.1 89.2 200.0 86.1 203.5 82.4 206.9 78.2 210.5M99.3 195.8 96.0 199.9 93.0 203.6 89.6 207.1 85.5 210.7 81.2 214.5M82.3 176.9 86.2 180.5 89.5 183.7 92.6 187.4 95.9 191.8M74.2 176.4 78.0 180.1 81.5 183.9 84.9 187.5 88.6 191.6 92.4 196.1 96.2 199.9 100.0 202.9M70.0 179.8 73.3 183.5 76.8 187.5 80.7 191.5 85.1 195.7 89.4 200.0 93.1 203.6 96.6 206.6M65.9 183.6 69.0 187.3 72.6 191.4 77.1 195.3 81.9 199.4 86.3 203.5 89.7 207.1 92.8 210.4M65.3 191.2 69.0 195.2 73.7 199.0 78.5 202.8 82.6 206.9 85.7 210.7 88.6 214.4M65.5 199.0 70.0 202.6 74.6 206.4 78.3 210.5 81.4 214.5M260.3 68.8 258.1 73.2 256.0 77.5M264.8 71.8 262.6 76.2 260.3 80.4M272.3 70.3 269.7 74.7 267.3 79.0 264.6 83.0 261.6 86.8M277.3 72.6 274.6 77.2 271.8 81.6 268.9 85.6 265.9 89.5M284.7 70.4 281.8 75.1 279.0 79.9 276.2 84.3 273.3 88.4 270.4 92.6M288.7 73.2 285.8 78.0 283.1 82.6 280.5 86.9 277.7 91.0 275.0 95.4 272.5 100.1M289.7 80.6 287.2 84.9 284.7 89.0 282.0 93.2 279.4 97.9M291.3 86.9 288.8 91.1M286.3 69.9 290.2 72.8M279.0 72.1 283.4 74.7 287.3 77.6 291.2 80.1M266.5 71.5 271.4 74.2 276.2 76.7 280.6 79.5 284.6 82.2 288.6 84.3M255.3 70.0 259.6 72.9 264.2 75.9 268.9 78.6 273.5 81.2 277.8 84.0 282.0 86.5 286.2 88.5 290.3 90.7M253.1 74.4 257.5 77.2 261.9 80.1 266.2 82.7 270.6 85.3 275.0 88.1 279.3 90.6 283.6 92.7M263.3 86.5 267.6 89.3 272.1 92.3 276.6 94.9 281.0 97.4M161.1 174.9 159.2 179.9M169.0 167.9 167.3 172.0 165.8 176.9 164.2 182.2 162.9 187.3M176.9 161.0 175.0 165.0 173.3 169.1 171.8 173.8 170.4 179.1 168.9 184.4 167.4 189.1M184.6 153.4 183.1 157.7 181.2 162.0 179.4 166.4 177.7 171.0 176.3 175.9 174.9 181.1 173.2 185.9 171.5 190.2M187.5 159.2 185.7 163.8 183.8 168.4 182.2 173.0 180.8 177.6 179.2 182.3 177.3 186.9 175.4 191.1M192.0 161.3 190.2 166.0 188.4 170.4 186.8 174.6 185.3 178.9 183.5 183.5 181.6 188.1 179.7 192.6 178.2 197.1M196.5 163.3 194.8 167.8 193.0 172.0 191.4 176.0 189.8 180.4 188.1 185.2 186.2 190.0 184.5 194.6 183.1 198.9M199.4 169.5 197.6 173.6 196.0 177.8 194.5 182.5 192.9 187.4M202.1 175.5 200.5 179.9M180.4 155.6 184.9 156.7M178.8 159.9 183.2 161.1 187.6 163.0 192.2 165.2 196.8 167.0 201.3 168.6M172.7 163.2 176.9 164.1 181.3 165.6 185.8 167.6 190.4 169.6 195.0 171.2 199.5 172.9 203.9 174.7M170.9 167.0 175.1 168.3 179.6 170.2 184.1 172.1 188.7 173.7 193.3 175.2 197.9 177.1 202.4 179.1M164.8 169.8 169.2 171.1 173.7 172.9 178.1 175.0 182.6 176.6 187.1 177.9 191.7 179.5 196.4 181.7M163.1 174.0 167.7 175.9 172.3 178.1 176.7 180.0 181.1 181.2 185.5 182.5 190.1 184.3 194.9 186.6M156.5 177.0 161.3 178.9 166.2 181.3 170.8 183.4 175.0 184.8 179.2 185.8 183.6 187.2 188.3 189.2 193.2 191.4M164.7 186.5 169.2 188.2 173.2 189.2 177.3 190.2 181.7 191.8 186.5 193.8M180.1 196.3 185.1 198.1M294.2 184.7 291.8 188.8 289.4 192.9 286.7 197.2M298.4 187.1 296.4 191.4 294.0 195.7 291.1 200.2M303.3 190.4 301.4 194.7 298.9 198.9M310.1 189.8 308.3 193.9 306.2 197.6M314.7 192.9 312.7 196.4 310.2 199.8M318.8 195.2 316.5 198.5M325.1 193.8 322.6 197.5 320.0 201.2M315.4 192.8 319.4 195.0 323.2 197.4 327.2 200.1M299.1 186.9 304.0 190.4 308.9 193.8 313.4 196.3 317.1 198.4M288.3 186.5 292.4 188.6 297.1 191.3 302.1 194.6 306.9 197.5 310.9 199.7M286.0 190.5 290.1 192.7 294.8 195.6 299.6 198.7M287.4 197.0 291.9 200.1M562.8 66.2 559.4 70.0 556.0 74.0 552.3 78.2 548.4 82.4M569.7 67.1 566.2 70.6 563.0 74.2 559.6 78.1 555.7 82.1 551.9 85.8 548.6 89.1 545.7 92.3M581.0 63.7 576.9 67.5 573.4 70.9 570.4 74.2 567.3 77.6 563.6 81.2 559.7 84.8 555.9 88.2 552.5 91.6M584.4 67.2 580.8 70.7 577.8 74.0 575.0 77.2 571.8 80.7 567.8 84.3 563.7 87.8 559.8 91.3M585.0 73.9 582.3 77.3 579.4 80.9 575.7 84.7 571.5 88.3 567.4 91.9 563.6 95.5M578.8 88.9 574.7 92.5 570.9 96.0M577.0 63.7 580.2 67.5 584.1 70.6M572.9 67.4 576.7 70.9 581.1 73.9 585.4 77.3M565.9 66.6 569.4 70.8 573.8 74.1 578.4 77.2 582.5 81.0M559.1 65.9 562.4 70.3 566.3 74.3 570.8 77.4 575.3 80.7 579.0 84.9 581.9 88.9M555.8 69.7 559.1 74.1 563.0 77.9 567.3 80.9 571.5 84.4 574.9 88.7 577.8 92.6M552.3 73.9 555.5 78.2 559.2 81.7 563.3 84.4 567.3 87.9 570.7 92.2 574.0 96.1M548.4 78.2 551.6 82.3 555.3 85.4 559.3 87.9 563.2 91.5 566.9 95.8M548.0 86.0 551.8 88.7 555.7 91.4M544.9 89.3 548.7 92.0M539.9 121.3 536.5 124.7 533.0 128.2 529.5 131.7 525.9 135.1M550.8 117.8 547.4 121.1 543.9 124.6 540.2 128.2 536.5 131.8 533.0 135.3 529.3 138.7 525.3 142.4M555.0 120.7 551.3 124.5 547.4 128.5 543.5 132.4 539.8 135.9 536.2 139.2 532.6 142.6 528.7 146.2M558.5 124.8 554.5 128.9 550.5 133.0 546.6 136.8 543.0 140.2 539.6 143.3 536.0 146.6 532.4 150.2M565.2 125.0 561.5 128.9 557.6 133.0 553.7 136.9 550.0 140.4 546.6 143.6 543.2 146.9 539.6 150.3 536.2 153.8M564.7 132.3 561.0 136.2 557.4 139.8 554.0 143.2 550.5 146.6 546.9 150.1 543.2 153.8 539.6 157.3M565.0 139.4 561.6 142.9 558.1 146.4 554.5 150.2 550.5 154.1 546.5 157.8 542.8 161.3M565.6 146.8 562.0 150.4 558.0 154.3 553.8 158.2M561.5 124.9 564.5 128.7M546.4 118.1 550.7 120.9 554.5 124.6 557.6 129.0 560.7 132.7 564.3 135.9M543.1 121.3 547.1 124.5 550.6 128.7 553.6 133.2 556.8 136.6 560.7 139.5 564.9 143.0M539.7 124.7 543.4 128.3 546.6 132.7 549.7 137.0 553.2 140.2 557.3 143.0 561.5 146.5 565.2 150.4M532.4 124.6 536.1 128.2 539.6 132.0 542.8 136.3 546.1 140.4 549.8 143.5 553.9 146.4 557.8 150.3 561.3 154.2M528.9 128.1 532.6 131.7 536.0 135.5 539.2 139.6 542.6 143.6 546.4 146.8 550.2 150.1 553.8 154.2 557.2 158.2M529.0 135.1 532.4 138.8 535.7 142.9 539.2 146.8 542.8 150.2 546.3 153.9 549.7 158.1M528.5 142.4 531.9 146.4 535.6 150.3 539.2 153.8 542.6 157.5 545.7 161.6M367.3 117.9 364.0 121.3 360.6 124.5M373.7 117.4 370.5 120.6 367.0 123.8 363.6 126.8 360.3 129.7M380.3 117.2 377.2 120.3 373.8 123.4 370.1 126.5 366.6 129.5 363.3 132.7 360.2 136.1 357.0 139.8M389.6 114.6 387.0 117.6 384.1 120.7 380.7 123.9 377.0 127.0 373.2 130.0 369.7 133.2 366.3 136.6 363.0 140.4 359.7 144.2 356.5 147.7M396.3 114.9 393.6 118.1 390.8 121.3 387.7 124.7 384.0 127.8 380.1 130.9 376.3 133.9 372.7 137.1 369.3 140.6 365.9 144.3 362.5 147.8M400.1 117.9 397.3 121.4 394.2 124.9 390.7 128.3 386.9 131.4 383.1 134.3 379.4 137.2 376.0 140.4 372.7 143.8 369.2 147.2M403.4 121.0 400.3 124.7 397.0 128.2 393.3 131.5 389.6 134.5 386.0 137.4 382.8 140.3 379.7 143.5 376.4 146.8 373.1 150.1M406.3 124.6 403.0 128.2 399.5 131.7 395.8 134.9 392.4 137.9 389.3 140.9 386.4 144.0 383.5 147.3 380.4 150.5M395.5 141.4 392.7 144.6 390.0 148.0 387.1 151.3 383.9 154.3M399.9 117.9 403.2 121.0 406.1 124.6M389.4 114.6 393.4 118.0 397.0 121.4 400.1 124.7 402.8 128.2 405.6 131.8M386.7 117.6 390.6 121.3 394.0 124.9 396.8 128.2 399.3 131.7 402.0 135.1M380.1 117.2 383.8 120.7 387.4 124.6 390.5 128.3 393.1 131.5 395.6 134.9 398.5 138.2M373.5 117.4 377.0 120.3 380.5 123.9 383.8 127.8 386.7 131.4 389.3 134.5 392.2 137.8 395.3 141.4M367.1 117.9 370.3 120.6 373.5 123.4 376.8 127.0 379.9 130.8 382.8 134.3 385.8 137.4 389.1 140.8 392.5 144.6M363.8 121.3 366.8 123.8 369.9 126.5 373.0 130.0 376.1 133.9 379.2 137.2 382.6 140.3 386.2 144.0 389.8 148.0M360.4 124.5 363.4 126.8 366.4 129.5 369.4 133.2 372.5 137.1 375.8 140.4 379.4 143.5 383.3 147.2 386.9 151.2 389.9 154.7M360.1 129.7 363.1 132.7 366.1 136.6 369.1 140.6 372.4 143.8 376.2 146.8 380.1 150.5M360.0 136.1 362.8 140.3 365.7 144.3 369.0 147.3 372.8 150.1M356.8 139.8 359.5 144.1 362.3 147.9M403.6 83.4 400.5 86.7 397.9 90.1 395.3 93.8M413.9 79.5 410.5 82.7 407.0 86.0 403.9 89.3 401.1 93.0 398.3 97.1 395.0 101.3M421.3 78.8 417.9 82.3 414.1 85.6 410.5 88.9 407.3 92.4 404.3 96.4 401.3 100.6 397.9 104.6 394.4 108.2M425.2 82.3 421.5 85.8 417.6 89.2 414.0 92.5 410.9 96.2 408.0 100.1 404.9 104.1 401.5 107.8 398.1 111.2 395.2 114.5M424.7 89.6 421.0 92.9 417.8 96.2 415.0 99.8 412.1 103.6 408.9 107.2 405.4 110.6 402.2 113.9 399.4 117.3M424.6 95.9 421.8 99.3 419.2 102.9 416.3 106.5 412.9 109.9 409.3 113.1 406.0 116.4 403.1 120.1M428.2 98.6 425.8 102.3 423.2 106.0 420.0 109.6 416.4 112.8 412.7 116.0 409.4 119.5 406.4 123.4M429.4 106.0 426.6 109.7 423.2 113.2 419.4 116.3M415.9 79.3 419.8 82.2 423.4 85.9M408.7 79.9 412.4 82.6 416.0 85.6 419.5 89.3 422.8 92.9 426.3 95.8M405.3 83.3 408.8 85.8 412.3 88.9 415.9 92.6 419.6 96.2 423.6 99.2 427.4 102.2M398.7 83.8 402.2 86.5 405.5 89.1 409.0 92.4 412.7 96.2 416.8 99.7 421.0 102.7 424.9 106.0 428.3 109.8 431.4 113.2M395.9 87.0 399.4 89.9 402.6 92.8 406.0 96.3 409.8 100.1 414.0 103.4 418.2 106.3 421.8 109.6 424.9 113.3M396.8 93.6 399.8 96.9 403.0 100.4 406.8 104.0 410.9 107.0 414.8 109.7 418.2 112.9 421.1 116.4M396.6 101.1 399.7 104.4 403.4 107.7 407.4 110.4 411.2 113.0 414.4 116.1 417.5 119.6M396.2 108.1 400.0 111.1 404.0 113.7 407.8 116.3 411.1 119.5M397.0 114.3 401.1 117.1 404.8 119.9 408.0 123.3M161.3 186.1 157.1 188.4 153.0 190.5 148.9 192.8M168.2 188.3 164.3 190.7 160.5 192.8 156.4 194.9 152.0 197.2M170.5 191.8 166.7 194.1 163.0 196.4M176.5 192.9 172.5 195.3 168.8 197.7M175.5 192.6 178.1 196.9M167.2 188.1 169.6 191.6 171.6 195.0M156.9 180.5 160.1 185.7 163.3 190.4 165.8 194.0 167.9 197.4M155.9 188.0 159.4 192.5 162.1 196.2M151.8 190.2 155.3 194.6 157.9 198.5M147.7 192.5 150.9 196.9M471.6 161.3 469.7 165.9M479.2 158.8 476.7 163.6 474.5 168.4M489.0 152.0 486.9 156.5 484.1 161.3 481.5 166.1 479.2 170.8 477.0 174.9M495.5 150.1 493.8 154.7 491.5 159.2 488.5 163.8 485.8 168.3 483.6 172.6 481.5 176.6M499.9 153.3 498.0 157.6 495.4 161.6 492.4 165.7 489.8 169.9 487.9 174.2 486.0 178.5 483.8 183.1M504.0 156.0 501.8 159.6 499.0 163.3 496.1 167.4 493.8 171.8 492.1 176.4 490.4 181.1 488.1 186.0M508.1 157.8 505.8 161.3 502.9 165.3 500.2 169.9 498.1 174.8 496.5 179.5 494.7 184.1M504.7 173.2 502.7 178.0 501.1 182.4M494.8 150.3 499.2 153.5 503.3 156.2 507.4 158.0M488.2 152.2 493.1 154.9 497.3 157.8 501.1 159.9 505.0 161.5M480.8 154.5 486.0 156.7 490.6 159.4 494.6 161.8 498.2 163.6 502.1 165.5 506.6 168.4M478.3 159.0 483.3 161.5 487.7 164.0 491.6 166.0 495.4 167.7 499.4 170.1 503.9 173.4M470.8 161.5 475.8 163.9 480.6 166.4 485.0 168.6 489.1 170.2 493.1 172.1 497.4 175.0 502.0 178.2 506.8 180.9M469.0 166.2 473.7 168.6 478.4 171.0 482.9 172.9 487.2 174.4 491.5 176.6 495.8 179.7 500.4 182.6 505.0 184.7M480.8 176.9 485.3 178.7 489.7 181.3 494.0 184.3M590.6 77.9 586.9 80.1M592.7 82.0 588.7 84.5 584.4 86.9 580.0 89.1M599.0 84.2 594.6 86.6 590.1 89.0 585.5 91.3 581.0 93.4 576.7 95.3 572.6 97.1M605.9 86.9 601.4 89.1 596.5 91.3 591.5 93.5 586.8 95.6 582.4 97.4 578.4 99.2 574.7 101.1M608.2 91.4 603.4 93.6 598.4 95.7 593.4 97.8 588.7 99.8 584.6 101.7 580.8 103.6 577.1 105.4M609.9 95.6 605.1 97.6 600.3 99.6 595.6 101.7 591.2 103.9 587.1 106.1 583.2 108.3 579.2 110.3M611.1 100.1 606.7 101.7 602.4 103.5 598.1 105.6 593.9 108.0 589.7 110.4 585.3 112.8 580.9 114.9M608.6 106.2 604.7 107.9 600.8 110.0 596.6 112.3 592.0 114.6 587.2 116.8M607.2 112.4 603.3 114.5 598.9 116.7 594.1 118.9M609.4 116.5 605.2 118.7M605.3 86.7 607.7 91.2 609.4 95.4 610.6 99.9M598.4 84.0 600.8 88.9 602.9 93.4 604.6 97.4 606.2 101.5 608.1 105.9M592.2 81.9 594.1 86.4 595.9 91.1 597.8 95.6 599.7 99.4 601.8 103.4 604.2 107.7 606.7 112.2 608.9 116.4M586.4 79.9 588.2 84.4 589.6 88.8 591.0 93.3 592.8 97.6 595.0 101.6 597.5 105.5 600.2 109.8 602.7 114.3 604.7 118.6M582.5 82.0 584.0 86.7 585.0 91.1 586.2 95.4 588.2 99.6 590.6 103.8 593.3 107.8 596.0 112.1 598.3 116.5 600.1 120.7M579.6 88.9 580.5 93.2 581.9 97.3 584.0 101.5 586.6 106.0 589.1 110.3 591.4 114.5 593.5 118.7M575.0 90.7 576.2 95.1 577.9 99.1 580.2 103.3 582.7 108.1 584.8 112.6 586.7 116.7M576.5 105.2 578.7 110.1 580.4 114.7M598.1 165.0 594.5 169.2M605.2 164.4 602.0 168.6 598.6 172.5 595.3 176.1M612.2 163.7 609.1 167.7 605.9 171.5 602.6 175.2 599.3 179.0M619.8 163.0 616.5 167.0 613.2 170.9 609.7 174.6 606.2 178.2 602.7 182.3M628.0 162.8 624.5 166.9 621.0 171.0 617.3 174.8 613.3 178.4 609.5 182.1 606.0 186.2M629.0 171.2 625.2 175.2 621.2 178.8 617.1 182.2 613.3 185.9 609.7 190.0 606.1 194.2M629.0 178.4 625.0 181.9 621.2 185.4 617.7 189.3 614.2 193.4 610.6 197.5M629.0 185.0 625.7 189.0 622.4 193.3 618.9 197.5 615.1 201.3M630.0 193.6 626.7 198.0 623.0 201.8M621.7 162.9 626.5 166.9 630.8 171.2M613.9 163.5 618.4 166.9 623.0 171.1 627.1 175.2 630.8 178.2M606.9 164.3 610.8 167.5 615.0 170.8 619.2 175.0 623.1 178.8 626.9 181.7M599.8 164.8 603.7 168.4 607.6 171.3 611.4 174.5 615.2 178.5 619.0 182.2 623.1 185.3 627.5 189.1M596.3 169.1 600.4 172.3 604.3 175.0 607.8 178.2 611.3 182.1 615.2 185.8 619.7 189.2 624.3 193.4 628.5 198.0M597.1 175.9 601.0 178.7 604.3 182.2 607.6 186.1 611.6 189.8 616.2 193.3 620.9 197.6 624.8 201.9M608.0 194.0 612.6 197.4 617.0 201.4M398.9 170.1 395.2 173.9 391.6 177.7 387.9 181.1 384.3 184.1M406.8 170.1 403.1 174.0 399.3 177.9 395.4 181.4 391.5 184.4 387.8 187.2 384.2 190.0M414.2 170.5 410.5 174.1 406.7 177.9 402.7 181.6 398.6 184.8 394.6 187.7 390.9 190.5 387.2 193.7M413.6 178.0 409.8 181.6 405.7 185.0 401.6 188.2 397.7 191.3 394.1 194.6 390.4 198.3M412.7 184.7 408.7 188.0 404.9 191.4 401.2 195.0 397.6 198.8M412.3 191.3 408.6 195.0 405.1 198.9M408.4 170.1 411.9 174.2 415.0 178.0M400.5 170.1 404.7 174.0 408.2 178.0 411.2 181.6 414.2 184.6M392.7 169.7 396.9 174.0 400.9 177.9 404.2 181.6 407.1 185.0 410.2 187.9 413.8 191.4M389.2 173.4 393.2 177.8 396.9 181.4 400.1 184.9 403.1 188.2 406.4 191.4 410.2 195.0 414.0 199.3M385.6 177.1 389.5 181.2 393.0 184.5 396.1 187.8 399.2 191.4 402.7 195.0 406.6 198.9M382.1 180.5 385.8 184.2 389.2 187.2 392.3 190.7 395.5 194.8 399.1 198.9M385.6 190.1 388.6 193.9 391.8 198.4M439.3 145.2 434.9 148.3 431.0 151.6 427.5 155.1 424.2 158.6M455.1 139.7 451.4 142.8 447.0 145.9 442.4 149.1 438.0 152.7 434.2 156.4 430.7 160.1 427.2 163.5 423.5 166.5M459.0 143.6 454.8 146.6 450.2 149.8 445.6 153.3 441.4 157.1 437.6 161.0 434.0 164.5 430.2 167.6 426.3 170.4M461.8 147.2 457.5 150.2 453.0 153.4 448.8 157.0 445.0 160.8 441.4 164.4 437.5 167.6 433.4 170.5M464.0 151.1 459.8 154.1 455.8 157.3 452.2 160.8 448.9 164.3 445.3 167.6 441.3 170.7 437.0 173.7M462.4 158.4 459.0 161.7 455.9 165.1 452.7 168.3 449.1 171.4 444.9 174.6 440.6 177.9M465.8 162.6 462.6 165.9 459.5 169.1 456.1 172.0 452.1 175.0 447.9 178.4M453.7 139.5 457.6 143.4 460.6 147.1M446.0 139.0 449.9 142.6 453.4 146.5 456.2 150.1 458.5 153.9 461.1 158.2 464.4 162.5 468.2 166.4M442.1 142.1 445.5 145.7 448.7 149.7 451.6 153.4 454.5 157.2 457.7 161.5 461.3 165.8 464.9 169.6M437.8 145.1 440.9 149.0 444.1 153.3 447.4 157.0 450.9 160.7 454.6 164.9 458.2 168.9 461.4 172.4M433.6 148.2 436.6 152.5 440.0 157.1 443.6 160.8 447.5 164.3 451.4 168.1 454.8 171.9 457.5 175.2M429.7 151.5 432.8 156.2 436.3 160.9 439.9 164.4 443.8 167.6 447.6 171.2 450.8 175.0 453.3 178.3M426.3 154.9 429.4 159.8 432.6 164.4 436.1 167.6 439.8 170.6 443.4 174.4 446.6 178.3 449.1 181.8M422.9 158.3 425.9 163.2 428.9 167.5 432.0 170.5M377.5 79.6 374.4 82.7 371.7 85.9 369.0 89.3 365.9 92.8 362.4 96.4 358.9 99.7 355.7 102.9M384.6 79.8 381.2 82.8 378.3 85.7 375.7 88.7 372.7 92.0 369.2 95.4 365.6 98.8 362.2 102.1 359.2 105.4 356.5 108.9M388.3 82.6 385.3 85.4 382.7 88.3 379.9 91.4 376.5 94.8 372.8 98.2 369.1 101.6 365.8 105.1 362.9 108.7 360.2 112.6M392.1 85.3 389.5 88.3 386.9 91.5 383.8 94.9 380.1 98.5 376.2 102.0 372.5 105.4 369.4 108.9 366.5 112.6 363.7 116.5M395.7 88.2 393.2 91.6 390.4 95.2 387.0 99.0 383.1 102.6 379.2 106.0 375.8 109.2 372.8 112.5 370.0 116.1 367.0 119.7M396.3 95.0 393.2 98.9 389.6 102.7 385.8 106.1 382.2 109.2 379.2 112.2 376.4 115.4 373.5 118.7M395.8 102.3 392.2 105.9 388.6 109.1 385.5 112.1 382.9 115.1M395.2 109.0 392.1 112.1 389.4 115.1M387.7 82.6 391.6 85.3 395.2 88.2M376.9 79.6 380.6 82.8 384.8 85.4 388.9 88.3 392.7 91.6 395.9 95.0M373.8 82.7 377.8 85.7 382.1 88.3 386.3 91.5 389.9 95.2 392.7 98.9 395.3 102.3M371.2 85.9 375.1 88.7 379.3 91.4 383.2 94.9 386.5 99.0 389.1 102.7 391.6 105.9 394.7 109.0M368.5 89.3 372.1 92.0 375.9 94.8 379.5 98.5 382.6 102.6 385.2 106.1 388.1 109.1 391.5 112.1 395.5 115.1M365.3 92.9 368.6 95.5 372.2 98.2 375.6 101.9 378.7 105.9 381.7 109.2 385.0 112.1 388.9 115.1M361.8 96.5 365.0 98.8 368.5 101.6 372.0 105.4 375.3 109.2 378.6 112.3 382.3 115.1M355.5 97.0 358.3 99.8 361.6 102.1 365.2 105.1 368.8 108.9 372.3 112.5 375.9 115.4M355.2 102.9 358.7 105.4 362.4 108.7 366.0 112.6 369.5 116.1 373.0 118.8M359.6 112.6 363.1 116.5 366.5 119.8M344.6 142.7 339.9 144.1 335.2 145.6 330.6 147.1 326.1 148.6M354.8 145.1 350.7 146.3 346.5 147.5 342.1 148.6 337.5 150.0 332.8 151.5 328.1 153.2 323.4 154.9M355.9 150.1 352.0 151.3 348.1 152.2 343.9 153.2 339.4 154.3 334.7 155.8 329.8 157.6 325.0 159.5 320.5 161.4M357.2 154.0 353.3 155.4 349.3 156.5 345.2 157.6 340.7 158.8 336.0 160.2 331.2 161.9 326.5 163.7 322.1 165.4M354.6 158.9 350.4 160.4 346.1 161.8 341.6 163.2 337.0 164.7 332.4 166.2 327.9 167.8 323.6 169.2M355.9 163.1 351.4 164.5 347.0 166.0 342.6 167.5 338.3 169.0 333.9 170.5 329.6 172.0 325.3 173.3M352.6 169.5 348.3 170.7 344.1 171.9 339.9 173.2 335.8 174.7 331.5 176.3M354.1 174.7 349.9 175.7 345.9 176.7 341.8 177.7 337.6 179.1 333.1 180.7M351.5 142.6 352.8 147.9 354.0 152.6 355.3 156.2 356.8 159.8M347.1 144.0 348.8 149.0 350.1 153.6 351.3 157.5 352.5 161.3 353.7 165.9 354.9 171.1M342.6 145.4 344.6 150.0 346.1 154.6 347.2 158.8 348.1 162.8 349.2 167.3 350.5 172.3 352.2 177.2M335.8 142.3 337.9 146.8 340.1 151.2 341.8 155.6 342.9 160.1 343.7 164.3 344.8 168.7 346.4 173.3 348.2 178.2M331.1 143.8 333.3 148.3 335.5 152.6 337.2 156.9 338.3 161.4 339.2 165.8 340.5 170.1 342.3 174.5 344.1 179.1M326.7 145.3 328.7 149.8 330.7 154.2 332.3 158.6 333.5 163.0 334.7 167.4 336.3 171.6 338.2 175.8 339.9 180.3M324.2 151.3 325.9 156.0 327.5 160.4 328.8 164.6 330.3 168.8 332.0 173.1 333.9 177.3 335.5 181.9M321.3 157.8 322.9 162.3 324.4 166.3 325.9 170.2M495.2 121.2 491.7 124.5 487.7 127.7M502.5 122.6 499.0 125.9 495.2 128.9 490.9 132.0M513.8 119.9 509.9 123.7 506.2 127.2 502.5 130.2 498.3 133.0 493.8 136.0 489.2 139.5M517.4 123.7 513.5 127.3 509.7 130.5 505.7 133.4 501.3 136.3 496.9 139.6 492.8 143.1M521.0 127.3 517.1 130.6 513.1 133.8 508.8 137.0 504.4 140.4 500.3 144.0 496.8 147.6M528.6 127.9 524.7 131.3 520.7 134.6 516.4 138.0 511.8 141.7 507.5 145.6 503.8 149.3 500.5 152.7M528.2 135.3 524.0 138.7 519.4 142.5 514.8 146.5 510.7 150.4 507.2 153.9M527.1 142.8 522.6 146.6 518.2 150.5M513.5 119.9 517.1 123.8 520.7 127.3 524.4 131.2 527.9 135.2M505.9 119.0 509.6 123.7 513.2 127.3 516.8 130.6 520.4 134.5 523.7 138.7 526.8 142.8M502.2 122.6 505.9 127.2 509.4 130.5 512.8 133.8 516.1 138.0 519.1 142.4 522.2 146.6M494.9 121.1 498.7 125.9 502.2 130.2 505.4 133.4 508.5 136.9 511.5 141.7 514.6 146.5 517.9 150.5M491.4 124.5 494.9 128.9 498.0 133.0 501.0 136.3 504.1 140.3 507.2 145.5 510.4 150.4 514.1 154.1M490.6 131.9 493.5 136.0 496.6 139.6 500.0 143.9 503.5 149.2 506.9 153.9M492.5 143.1 496.5 147.5 500.2 152.6M69.5 145.4 67.4 149.5M74.4 147.5 72.0 151.4 69.1 155.4 66.7 159.9M79.1 149.6 76.2 153.5 73.1 157.7 70.7 162.3 69.0 167.2 67.5 171.9M85.8 147.9 83.3 151.9 80.1 155.8 77.1 160.2 74.9 165.0 73.5 169.7 72.0 174.1 69.9 178.3M89.9 150.1 87.2 153.9 84.1 157.9 81.4 162.5 79.7 167.5 78.5 172.1 76.8 176.3M91.3 155.5 88.5 159.9 86.3 165.0 84.9 170.1 83.6 174.6 81.6 178.7M75.4 147.2 80.1 149.4 84.3 151.7 88.2 153.6 92.3 155.1M68.5 149.2 73.0 151.1 77.2 153.2 81.1 155.5 85.2 157.6 89.6 159.5M65.9 153.3 70.2 155.1 74.1 157.4 78.1 159.8 82.5 162.2 87.3 164.6M67.6 159.5 71.6 162.0 75.9 164.6 80.7 167.1 85.9 169.7M65.7 164.3 69.9 166.9 74.5 169.4 79.5 171.8 84.6 174.4M68.4 171.6 73.0 173.8 77.8 176.1M66.5 176.1 70.9 178.0M588.9 116.9 583.9 119.4 579.2 121.7 574.8 123.9 570.7 126.3 566.5 129.1M596.4 118.4 591.4 121.0 586.4 123.4 581.8 125.7 577.5 128.1 573.3 130.6 569.1 133.3 564.7 136.1M603.5 119.9 598.7 122.6 593.9 125.2 589.2 127.8 584.8 130.5 580.6 133.1 576.3 135.7 572.0 138.2 567.7 140.6M609.8 121.4 605.2 124.0 600.6 126.6 596.2 129.4 591.9 132.4 587.7 135.4 583.5 138.3 579.1 140.8 574.8 143.1 570.6 145.3 566.4 147.6M602.6 131.0 598.6 133.8 594.5 136.8 590.3 139.8 585.9 142.5 581.5 144.9 577.2 147.0 573.0 149.2 568.8 151.7M601.3 138.4 597.2 141.2 592.8 143.9 588.2 146.2 583.7 148.4 579.4 150.5 575.1 152.8M595.4 147.8 590.7 150.2 586.2 152.5 581.7 154.9M593.5 154.3 588.9 157.2M601.7 119.6 603.6 123.6 605.3 127.9M594.5 118.0 596.9 122.2 599.0 126.2 601.0 130.5 603.5 135.2M587.0 116.5 589.4 120.5 592.0 124.8 594.5 129.1 596.9 133.4 599.5 138.0M580.1 115.0 582.1 119.0 584.5 122.9 587.3 127.3 590.2 132.0 592.8 136.5 595.4 140.8 598.1 144.9M575.6 117.3 577.5 121.3 579.9 125.2 582.9 129.9 586.0 134.9 588.6 139.5 591.0 143.5 593.5 147.4 596.2 151.3M573.2 123.5 575.7 127.5 578.7 132.5 581.7 137.7 584.2 142.1 586.4 145.9 588.9 149.7 591.6 153.9M569.0 126.0 571.5 130.1 574.5 135.0 577.4 140.2 579.8 144.5 582.0 148.0 584.3 152.0 587.0 156.7M564.8 128.8 567.2 132.9 570.2 137.5 573.1 142.5 575.5 146.7 577.7 150.1 580.0 154.3M565.8 140.0 568.8 144.7 571.4 148.9 573.5 152.5M272.8 107.6 268.4 108.7 263.9 109.9 259.4 111.0M273.9 111.7 269.2 112.7 264.6 113.7 260.2 114.9 256.0 116.3 252.0 118.0 248.0 119.8M274.9 115.8 270.0 116.8 265.4 117.9 261.0 119.1 256.9 120.5 253.1 122.2 249.2 124.0 245.0 125.8M276.2 119.9 271.4 121.4 266.8 122.7 262.4 123.9 258.2 125.2 254.2 126.5 250.1 128.0 245.7 129.6M277.9 124.5 273.4 126.2 268.9 127.6 264.4 128.9 259.9 130.2 255.4 131.3 251.0 132.6 246.5 133.8 242.0 135.1M283.8 128.0 279.7 129.6 275.5 131.0 271.0 132.4 266.3 133.6 261.5 134.8 256.7 136.1 252.1 137.4 247.7 138.7 243.5 140.1M285.2 133.1 281.4 134.5 277.2 135.7 272.7 136.7 267.8 137.7 262.8 138.9 257.9 140.3 253.3 141.9 249.2 143.6 245.3 145.3M278.3 139.8 273.7 140.8 268.8 141.8 263.9 142.9 259.2 144.3 254.8 145.9 250.7 147.8M265.3 147.3 260.8 148.6M283.1 131.7 284.5 136.2M270.5 106.3 271.6 110.5 272.5 114.5 273.6 118.7 275.3 123.3 277.3 128.2 279.1 133.1 280.5 137.5M266.1 107.6 267.0 111.5 267.7 115.5 268.9 120.0 270.7 124.8 272.9 129.7 274.8 134.3 276.1 138.6M261.6 108.7 262.5 112.6 263.2 116.6 264.3 121.1 266.2 126.2 268.3 131.0 270.1 135.4 271.4 139.6 272.3 143.7M257.1 109.8 258.1 113.9 258.9 117.8 260.1 122.4 261.7 127.4 263.6 132.3 265.2 136.6 266.4 140.6 267.5 144.8M252.6 111.0 253.9 115.3 254.9 119.4 256.0 123.8 257.4 128.6 258.9 133.5 260.3 137.8 261.4 141.8 262.8 146.0 264.5 150.6M248.1 112.3 249.8 117.0 251.1 121.2 252.1 125.4 253.1 129.9 254.3 134.7 255.5 139.2 256.8 143.3 258.2 147.4M247.1 123.1 248.0 127.0 248.8 131.2 249.8 135.9 251.0 140.8 252.5 145.1M244.3 132.5 245.4 137.2 246.9 142.3 248.5 146.9M613.6 200.8 608.9 202.4 604.4 204.1 600.2 206.0M619.9 204.1 615.3 205.4 610.9 206.7 606.6 208.4 602.5 210.3 598.3 212.3 593.9 214.4 589.2 216.3M621.1 208.0 616.7 209.5 612.5 211.1 608.3 212.9 604.1 214.9 599.7 216.9 595.1 218.8 590.3 220.4M618.2 213.3 614.0 215.3 609.7 217.3 605.2 219.4 600.6 221.4 596.0 223.2 591.5 224.8M620.2 218.0 615.8 219.8 611.1 221.7 606.4 223.6 601.8 225.6 597.5 227.5 593.4 229.3M617.8 224.9 612.9 226.4 608.1 228.0 603.7 229.8 599.6 231.8 595.8 233.8M619.7 229.9 614.8 231.2 610.2 232.7M617.2 198.9 619.0 203.6 620.2 207.6M612.4 200.3 614.3 204.9 615.8 209.1 617.3 213.0 619.2 217.4M607.7 201.9 609.9 206.3 611.6 210.7 613.0 214.9 614.7 219.3 616.6 224.3 618.6 229.3M603.3 203.7 605.6 207.9 607.4 212.5 608.7 217.0 610.1 221.3 611.8 225.8 613.7 230.7M599.1 205.7 601.5 209.9 603.2 214.5 604.3 219.0 605.4 223.3 607.1 227.6 609.1 232.2M595.1 207.6 597.3 211.9 598.8 216.5 599.7 221.0 600.9 225.3 602.7 229.4 604.9 233.9M590.9 209.6 592.9 214.0 594.1 218.3 595.1 222.8 596.5 227.1 598.6 231.4 601.0 235.9M521.2 87.7 517.8 91.3 514.3 95.1M531.5 84.5 528.3 87.6 525.0 90.8 521.4 94.4 517.7 98.2 514.1 101.9M535.5 88.0 532.5 91.0 529.1 94.2 525.4 97.8 521.6 101.5 517.9 105.1 514.3 108.5M542.2 88.6 539.5 91.5 536.5 94.6 533.0 98.0 529.2 101.6 525.5 105.2 521.8 108.7 518.2 112.3 514.6 116.0M545.9 91.6 543.1 94.7 539.9 98.2 536.3 101.8 532.6 105.4 529.0 108.8 525.4 112.2 521.8 115.8 518.2 119.6M546.2 97.9 542.7 101.8 539.0 105.6 535.4 109.1 532.0 112.3 528.7 115.5 525.2 119.0 521.7 122.7M545.2 106.0 541.6 109.7 538.3 112.9 535.1 116.0 532.0 119.1 528.7 122.5 525.3 126.0M544.9 113.5 541.7 116.5 538.7 119.5 535.6 122.7 532.3 126.0M541.4 88.5 545.1 91.6 548.6 94.3M534.6 87.9 538.6 91.5 542.3 94.8 545.4 98.0 548.2 101.9M523.5 84.5 527.4 87.6 531.5 90.9 535.5 94.6 539.0 98.2 541.8 101.8 544.4 105.9 547.4 110.2M520.2 87.8 524.0 90.9 528.1 94.2 532.0 98.0 535.4 101.8 538.2 105.5 540.8 109.6 543.9 113.5 547.9 116.5M516.9 91.3 520.4 94.5 524.3 97.8 528.2 101.6 531.7 105.4 534.6 109.0 537.4 112.8 540.8 116.5 544.9 119.4M516.7 98.3 520.5 101.5 524.5 105.2 528.1 108.8 531.2 112.3 534.3 115.9 537.8 119.5 541.7 122.6M516.9 105.1 520.8 108.7 524.5 112.2 527.8 115.5 531.1 119.0 534.7 122.6M517.2 112.2 520.9 115.8 524.3 119.1 527.7 122.5 531.4 126.0M517.2 119.6 520.8 122.8 524.4 126.0 528.1 129.5M322.2 109.5 318.0 112.5M332.5 107.8 328.3 110.6 324.1 113.5 320.0 116.2 316.0 118.8M343.1 107.3 338.9 109.7 334.6 112.3 330.4 114.9 326.4 117.5 322.6 120.0 318.7 122.4 314.7 124.7M353.4 106.4 349.6 109.0 345.6 111.5 341.4 114.1 337.1 116.7 333.0 119.2 329.2 121.6 325.4 124.1 321.7 126.5M356.3 110.4 352.4 113.1 348.3 115.8 344.0 118.4 339.8 120.7 335.8 123.0 331.9 125.4 328.1 127.9 324.2 130.7M359.0 115.2 355.0 117.9 350.8 120.4 346.6 122.6 342.5 124.7 338.4 126.7 334.3 129.0 330.2 131.6 326.2 134.5M361.4 120.0 357.3 122.6 353.2 124.8 349.1 126.8 345.0 128.7 340.8 130.7 336.4 133.0 332.1 135.6 327.9 138.3M359.6 126.1 355.6 128.3 351.6 130.4 347.5 132.6 343.2 134.8 338.7 137.3 334.3 139.8 330.1 142.4M361.9 129.0 358.0 131.4 354.2 133.8 350.1 136.4 345.9 138.9 341.5 141.5 337.2 144.1M360.4 135.4 356.5 138.1 352.6 140.8 348.6 143.4M350.2 105.8 352.9 109.6 355.7 114.1 358.2 119.0 360.5 123.3 362.7 126.3M346.3 108.2 348.9 112.3 351.6 116.8 354.1 121.6 356.4 125.6 358.7 128.7 361.0 131.9M339.8 106.2 342.2 110.7 344.7 115.0 347.4 119.3 349.9 123.8 352.3 127.7 354.8 131.0 357.2 134.5 359.5 139.2M335.6 108.7 337.9 113.2 340.5 117.5 343.2 121.6 345.7 125.7 348.3 129.7 350.8 133.2 353.4 137.1 355.6 141.9M329.4 107.1 331.4 111.3 333.7 115.8 336.3 120.0 339.1 123.8 341.6 127.6 344.1 131.7 346.7 135.6 349.3 139.8 351.7 144.5M325.2 110.0 327.2 114.1 329.6 118.4 332.4 122.4 335.1 126.0 337.4 129.8 339.7 133.9 342.3 138.1 345.1 142.4M319.0 108.9 321.0 113.0 323.1 116.8 325.8 120.8 328.6 124.8 331.1 128.5 333.2 132.2 335.2 136.4 337.8 140.7 340.9 144.9M316.8 115.7 319.2 119.3 322.0 123.2 324.9 127.3 327.2 131.2 329.0 134.9 330.9 139.0 333.5 143.2M315.2 121.7 318.2 125.6M144.2 137.6 140.8 141.3 137.2 145.5M155.6 133.9 151.8 137.5 148.1 141.0 144.4 144.7 140.7 149.0 137.1 153.4 133.9 157.6M163.8 133.9 159.7 137.7 155.8 141.1 151.9 144.6 148.1 148.5 144.4 152.8 141.1 157.0 138.2 161.0M171.1 133.3 167.2 137.2 163.2 140.8 159.4 144.3 155.8 148.0 152.2 152.2 148.7 156.3 145.6 160.3 142.7 164.1M174.1 135.9 170.2 139.7 166.5 143.4 163.2 147.3 159.9 151.6 156.5 155.9 153.3 160.0 150.1 163.7 146.8 167.2M177.2 138.7 173.5 142.7 170.3 146.8 167.3 151.3 164.2 155.9 160.9 160.2 157.5 163.9 154.1 167.2 150.3 170.7M177.6 146.7 174.6 151.1 171.6 155.6 168.3 160.0 164.8 163.8 161.3 167.2 157.6 170.4 153.6 174.0M182.1 150.5 178.9 154.7 175.6 158.9 172.1 162.8 168.5 166.3 164.9 169.7 161.3 173.3 157.4 177.4M164.9 133.9 168.2 137.1 171.2 139.5 174.6 142.6 178.7 146.7M156.8 133.9 160.9 137.7 164.2 140.7 167.5 143.2 171.4 146.8 175.6 151.0 180.0 154.5M148.6 134.0 153.0 137.5 156.9 141.1 160.5 144.2 164.2 147.2 168.4 151.3 172.6 155.5 176.7 158.6M145.2 137.6 149.2 141.0 153.0 144.6 156.9 147.9 161.0 151.5 165.3 155.9 169.4 159.9 173.1 162.6M138.0 138.3 141.8 141.2 145.5 144.7 149.2 148.5 153.3 152.1 157.7 155.9 162.0 160.2 165.9 163.7 169.5 166.1M138.2 145.3 141.7 148.9 145.5 152.7 149.8 156.3 154.4 160.0 158.6 163.9 162.4 167.1 166.0 169.5M134.5 149.7 138.1 153.3 142.2 156.9 146.7 160.2 151.2 163.7 155.1 167.3 158.7 170.3 162.4 173.2M143.7 164.0 147.9 167.2 151.4 170.7 154.7 173.9 158.5 177.3M256.2 79.8 251.5 81.5 246.8 83.2 242.0 85.1M258.0 84.6 253.2 86.4 248.6 88.5 244.0 90.7 239.3 92.8 234.4 94.8M264.6 87.4 259.5 89.1 254.7 91.2 250.1 93.7 245.5 96.2 240.7 98.7 235.6 100.7 230.3 102.4M266.5 92.4 261.4 94.2 256.7 96.2 252.0 98.5 247.1 100.9 242.1 103.2 236.8 105.3M268.9 97.8 264.0 99.8 259.2 101.7 254.3 103.6 249.3 105.4 244.1 107.4 239.0 109.4M271.4 103.1 266.6 105.1 261.7 106.9 256.7 108.6 251.7 110.4 246.8 112.3M262.4 86.4 264.1 91.2 266.4 96.7 269.0 102.1 271.2 107.1M254.0 78.7 255.9 83.6 257.4 88.3 259.1 93.1 261.6 98.6 264.2 104.1 266.3 108.8M249.3 80.5 251.2 85.4 252.7 90.4 254.4 95.3 256.8 100.5 259.3 105.9 261.3 110.5M244.5 82.3 246.5 87.4 248.1 92.8 249.8 97.8 251.9 102.5 254.3 107.6 256.3 112.4M241.9 89.4 243.5 95.3 244.9 100.3 246.9 104.6 249.3 109.4 251.6 114.4M237.1 91.5 238.7 97.6 239.9 102.6 241.6 106.6 244.2 111.3M232.2 93.5 233.5 99.5 234.6 104.6M130.6 100.3 128.2 104.6 126.2 108.5M137.5 97.3 135.2 102.0 133.0 106.2 131.1 110.4 129.3 114.8 127.3 119.7 125.1 124.8M142.1 99.4 139.8 103.9 137.8 108.1 136.0 112.2 134.2 116.8 132.0 121.7 129.8 126.6M148.6 97.2 146.6 101.5 144.4 105.7 142.3 109.8 140.4 114.0 138.5 118.6 136.3 123.6 134.1 128.4 132.0 132.8M153.1 99.1 151.0 103.3 148.6 107.6 146.4 111.7 144.3 116.1 142.3 120.8 140.2 125.7 138.1 130.4 136.2 134.7M157.7 100.7 155.3 105.3 152.6 109.8 150.1 114.2 148.1 118.5 146.2 123.2 144.2 127.9 142.3 132.3 140.5 136.3M162.2 102.8 159.4 107.8 156.5 112.4 154.1 116.7 152.3 120.9 150.5 125.3 148.7 129.8 146.8 134.0 144.9 138.0M163.6 110.2 160.8 114.6 158.7 118.6 157.1 122.8 155.6 127.2 153.7 131.8 151.6 136.0M163.8 120.1 162.5 124.6 160.9 129.4 158.8 134.1M144.7 98.5 149.2 100.5 153.7 102.3 158.0 104.4 162.3 106.9M133.4 99.1 137.9 100.9 142.5 102.9 147.0 104.8 151.2 106.7 155.2 109.0 159.2 111.6 163.6 113.6M126.4 102.1 131.0 103.6 135.7 105.3 140.4 107.2 144.8 108.9 148.7 111.0 152.6 113.5 156.7 115.9 161.3 117.6M128.9 107.6 133.8 109.5 138.5 111.3 142.8 113.1 146.6 115.3 150.4 117.8 154.8 120.0 159.8 121.7 165.1 123.5M127.0 111.7 132.0 113.8 136.7 115.6 140.9 117.5 144.6 119.8 148.5 122.3 153.1 124.3 158.3 126.2 163.7 128.5M125.1 116.3 130.1 118.6 134.7 120.4 138.7 122.4 142.5 124.6 146.7 126.9 151.4 128.8 156.6 130.9 161.6 133.3M122.9 121.4 127.9 123.6 132.4 125.4 136.5 127.3 140.5 129.4 144.8 131.3 149.5 133.1 154.4 135.3M130.2 130.0 134.5 131.9 138.6 133.7 142.9 135.4 147.5 137.2M72.7 68.3 70.4 72.6 67.9 76.8M78.9 66.1 76.8 70.8 74.7 75.1 72.4 79.3 70.2 83.7M83.3 68.8 81.3 73.5 79.3 77.6 77.2 81.8M86.2 75.7 84.3 79.7M76.8 66.8 81.1 69.5 85.7 72.2M70.6 68.9 74.7 71.4 79.1 74.1 84.0 76.4 89.1 78.1M68.2 73.2 72.4 75.7 77.0 78.2 82.0 80.5M70.1 79.9 74.9 82.5M283.7 93.7 279.4 97.1 275.3 100.6M295.0 91.9 290.8 94.9 286.6 98.3 282.5 101.8 278.4 105.2 274.2 108.2M302.4 94.1 298.1 96.8 293.8 99.8 289.6 103.1 285.6 106.4 281.4 109.6 277.0 112.3 272.2 114.9M309.9 95.2 305.7 97.9 301.4 100.7 297.1 103.8 292.9 107.0 288.8 110.1 284.6 113.1 280.0 116.0 275.2 119.0M313.4 98.5 309.2 101.4 304.8 104.3 300.5 107.4 296.3 110.4 292.0 113.4 287.6 116.5 283.1 119.8 278.7 123.3M316.9 102.8 312.5 105.9 308.0 109.1 303.6 112.1 299.2 114.9 294.7 117.8 290.2 121.0 286.0 124.6 282.0 128.2M319.8 107.5 315.2 111.0 310.7 114.2 306.2 117.1 301.6 119.9 297.0 122.8 292.6 126.1 288.7 129.7 285.0 133.1M313.4 118.4 308.9 121.2 304.3 124.0 299.7 127.1 295.5 130.3M304.1 94.4 307.4 98.0 310.9 101.6 314.1 106.4 316.8 111.3M296.6 92.4 299.7 97.1 303.1 100.8 306.5 104.6 309.6 109.6 312.3 114.6 315.0 118.5M289.4 90.6 292.3 95.3 295.4 100.1 298.7 103.8 302.1 107.6 305.1 112.6 307.8 117.5 310.6 121.4M285.2 93.8 288.1 98.6 291.2 103.3 294.6 107.0 297.9 110.6 300.7 115.4 303.2 120.3 306.0 124.2M281.0 97.3 284.0 102.1 287.1 106.6 290.5 110.1 293.6 113.6 296.2 118.3 298.5 123.2 301.4 127.2M276.9 100.9 280.0 105.5 283.0 109.8 286.2 113.1 289.2 116.7 291.7 121.4 294.1 126.4 297.1 130.4M272.8 104.2 275.8 108.5 278.6 112.6 281.7 116.1 284.7 120.0 287.4 124.9 290.1 129.9 293.2 133.7M277.0 119.2 280.3 123.5 283.5 128.5 286.4 133.3M360.0 148.3 357.4 152.3M364.1 150.5 361.4 154.2 358.9 157.9 356.2 161.9M371.5 148.5 368.8 152.5 366.2 156.4 363.5 160.5 360.5 165.1 357.3 169.9 354.4 174.4M376.5 151.2 373.8 155.3 371.0 159.4 368.1 163.8 364.8 168.6 361.5 173.2 358.6 177.4M381.3 154.5 378.4 158.4 375.4 162.4 372.2 166.7 368.8 171.3 365.6 175.6 363.0 179.6M388.2 153.6 385.3 157.5 382.2 161.1 379.1 164.9 376.0 169.1 372.8 173.6 369.9 177.9 367.5 182.1M388.6 159.9 385.5 163.5 382.6 167.5 379.8 172.0 377.0 176.6 374.5 181.0 372.2 185.2M391.9 162.5 389.1 166.5 386.5 171.0 383.9 175.7 381.4 180.1 379.0 184.2M369.8 148.9 374.8 151.5 379.7 154.7 383.8 157.7 387.2 160.1 390.5 162.7M358.6 148.6 362.5 151.0 367.1 152.9 372.1 155.5 376.8 158.6 380.8 161.3 384.1 163.8 387.7 166.7 391.9 170.2M356.0 152.6 359.9 154.6 364.5 156.7 369.4 159.6 373.9 162.7 377.7 165.3 381.2 167.8 385.0 171.2 389.4 174.9M357.4 158.2 361.8 160.8 366.4 164.1 370.6 167.2 374.5 169.6 378.3 172.3 382.4 175.9 386.9 179.4M354.6 162.2 358.8 165.4 363.1 168.9 367.2 171.8 371.2 174.0 375.4 176.8 379.9 180.3 384.4 183.3M355.7 170.1 359.9 173.6 364.1 176.1 368.4 178.3 372.9 181.2 377.6 184.4M357.1 177.7 361.5 180.0 366.0 182.3M429.5 113.5 424.3 115.4 419.1 117.0 414.1 118.8 409.4 120.9M436.4 115.2 431.1 117.6 425.8 119.7 420.9 121.7 416.1 123.9 411.5 126.3 406.8 128.9M443.8 116.9 438.4 119.2 433.1 121.5 428.1 123.9 423.5 126.3 418.9 128.8 414.1 131.3 408.9 133.8M445.6 122.1 440.3 124.4 435.5 126.9 431.0 129.4 426.7 131.8 422.0 134.0 416.9 136.1 411.5 138.3M447.1 127.3 442.3 130.0 437.9 132.8 433.7 135.4 429.3 137.7 424.5 139.5 419.3 141.3M449.4 131.9 444.8 134.7 440.4 137.4 435.9 140.0 431.1 142.3 426.2 144.2 421.2 146.1M452.6 136.6 447.9 139.0 442.9 141.3 437.8 143.6 432.6 145.8 427.7 148.0 423.1 150.2M435.7 111.6 437.9 115.5 439.9 119.7 441.7 125.1 443.7 130.5 446.4 135.0 449.5 139.4M430.8 114.0 432.5 117.8 434.6 122.0 436.9 127.6 439.3 133.3 441.9 137.7 444.5 141.7M425.7 116.0 427.3 120.0 429.7 124.4 432.5 130.2 435.1 136.0 437.3 140.3 439.2 143.9M420.5 117.7 422.3 122.2 425.1 126.8 428.2 132.5 430.7 138.3 432.5 142.6 434.0 146.1M415.5 119.5 417.6 124.5 420.5 129.3 423.6 134.7 425.9 140.3 427.5 144.6 429.1 148.3M410.7 121.6 412.9 126.9 415.7 131.7 418.5 136.7 420.8 142.0 422.6 146.5 424.5 150.6 426.7 155.7M406.2 124.0 408.2 129.4 410.5 134.2M250.6 185.8 248.0 190.7 245.8 196.1 244.0 201.3M259.7 178.9 257.6 183.5 255.1 188.1 252.6 193.0 250.5 198.2M268.5 171.6 266.2 176.4 264.4 181.1 262.5 185.5 260.1 190.0 257.7 194.8 255.5 199.8M273.1 173.9 271.1 178.6 269.4 183.1 267.6 187.4 265.2 191.8 262.7 196.7M276.0 180.8 274.4 185.3 272.4 189.6 270.0 194.2 267.6 199.2M280.7 183.1 279.0 187.7 276.9 192.1 274.4 196.8M285.1 185.5 283.3 189.9 281.1 194.3 278.7 199.0M287.7 191.6 285.6 196.2 283.2 201.2M264.0 177.2 268.8 179.5 273.8 181.6 278.6 183.9 283.0 186.3 287.3 188.1M257.4 179.7 262.1 181.9 267.1 183.9 272.1 186.0 276.8 188.4 281.1 190.7 285.4 192.5M255.2 184.3 260.0 186.4 265.1 188.2 270.0 190.3 274.6 192.8 278.9 195.2 283.2 197.2 288.0 199.4M248.2 186.6 252.7 189.0 257.5 191.0 262.6 192.7 267.5 195.0 272.1 197.6 276.5 200.0M245.6 191.6 250.2 194.1 255.2 195.9 260.2 197.7M243.6 197.1 248.3 199.3M102.6 203.7 99.4 207.0 95.8 210.2 91.9 213.6 88.0 217.1 84.4 220.4 81.0 223.4M106.4 207.4 102.8 210.6 98.9 214.0 94.9 217.6 91.2 221.1 87.9 224.2 84.7 227.1 81.5 229.9M110.2 211.1 106.3 214.2 102.2 217.7 98.3 221.2 94.8 224.6 91.6 227.7 88.5 230.6M113.6 213.9 109.6 217.1 105.5 220.6 101.7 224.1 98.3 227.5 95.1 230.7 91.8 233.9M120.3 213.8 116.5 216.8 112.4 220.2 108.5 223.8 104.9 227.3 101.6 230.7 98.3 234.1 94.8 237.6M119.0 220.9 115.2 224.5 111.5 227.9 108.2 231.3 104.9 234.7 101.3 238.1M118.3 229.0 115.0 232.2 111.8 235.3 108.3 238.5 104.5 241.9M118.8 235.4 115.5 238.3 111.8 241.4M119.0 241.0 115.1 244.2M105.0 207.3 108.7 211.0 112.2 214.0 115.1 216.8 117.8 220.7M95.0 204.0 98.1 206.9 101.4 210.5 104.9 214.2 108.1 217.3 111.1 220.2 113.8 224.3 117.0 228.8M91.8 207.0 94.5 210.2 97.5 214.0 100.8 217.7 104.1 220.8 107.1 223.8 110.2 227.8 113.7 232.0 117.4 235.4M88.2 210.1 90.6 213.6 93.5 217.5 96.9 221.3 100.3 224.3 103.6 227.3 106.9 231.1 110.4 235.2 114.1 238.3 117.6 241.0M84.2 213.4 86.7 217.0 89.9 220.9 93.4 224.6 97.0 227.6 100.3 230.7 103.6 234.5 106.9 238.4 110.4 241.5M83.1 220.3 86.5 224.1 90.3 227.6 93.9 230.7 97.0 234.0 100.0 238.0M79.7 223.3 83.4 226.9 87.1 230.5 90.5 233.9M129.8 67.5 127.2 72.0 124.6 76.2 122.5 80.1M134.1 69.3 131.4 73.6 128.8 77.8 126.8 81.7 125.0 85.7 122.9 90.1M140.6 67.0 138.1 71.1 135.4 75.4 133.0 79.6 131.1 83.7 129.3 88.0 127.2 92.7 124.8 97.6M144.5 69.2 142.0 73.3 139.4 77.6 137.2 81.7 135.4 85.9 133.6 90.2 131.4 94.9 128.9 99.5M150.3 67.6 148.4 71.4 146.0 75.5 143.5 79.7 141.3 83.8 139.6 87.9 137.8 92.3 135.6 96.8 133.1 101.2M154.6 69.5 152.6 73.4 150.1 77.6 147.5 81.9 145.4 86.0 143.8 90.2 142.0 94.4 139.8 98.8M154.2 79.8 151.5 84.3 149.5 88.6 147.9 92.6 146.2 96.8M145.2 69.0 149.2 71.2 153.5 73.1 157.9 74.9M135.0 68.9 139.0 70.9 142.9 73.1 146.8 75.3 151.0 77.3 155.1 79.5M123.7 69.6 128.1 71.6 132.2 73.3 136.3 75.1 140.3 77.3 144.3 79.5 148.3 81.6 152.3 84.1M125.5 75.9 129.6 77.4 133.8 79.3 138.0 81.5 142.1 83.6 146.2 85.8 150.3 88.4M123.3 79.8 127.5 81.4 131.9 83.5 136.2 85.6 140.4 87.7 144.5 89.9 148.7 92.4 153.0 94.8M121.4 83.4 125.8 85.4 130.1 87.8 134.4 89.9 138.6 91.9 142.8 94.2 147.0 96.5M119.5 87.3 123.8 89.9 128.1 92.4 132.3 94.5 136.5 96.4 140.7 98.5M125.6 97.3 129.8 99.1 134.0 100.9M444.0 73.3 440.0 75.4 436.2 77.6 432.2 79.8 427.9 81.9 423.1 83.8M445.9 77.6 441.9 80.0 437.9 82.5 433.8 84.9 429.4 87.0 424.6 88.8M452.7 79.5 448.2 81.7 443.8 84.1 439.5 86.6 435.1 89.0 430.6 91.2 426.1 93.2M455.3 84.3 450.6 86.3 445.9 88.4 441.2 90.6 436.6 92.7 432.2 94.9 428.0 97.0M462.3 87.3 457.7 89.4 452.9 91.3 447.9 93.2 443.0 95.1 438.4 97.1 434.2 99.2 430.4 101.4 426.6 103.6M464.0 92.0 459.5 94.1 454.7 95.9 449.8 97.8 445.0 99.8 440.6 102.0 436.6 104.4 432.8 106.6 428.8 108.7M447.5 104.0 443.2 106.4 439.1 109.0 434.9 111.4 430.5 113.5M455.1 80.3 457.7 85.3 459.9 90.3 461.6 94.9M448.0 78.2 450.4 82.4 453.0 87.3 455.1 92.3 456.9 96.7M441.9 76.2 443.8 80.5 445.9 84.7 448.1 89.3 450.1 94.2 452.1 98.6M438.0 78.5 439.8 83.1 441.5 87.1 443.3 91.3 445.2 96.0 447.3 100.6 449.8 104.5M434.1 80.8 435.6 85.6 437.0 89.4 438.6 93.4 440.5 98.0 442.8 102.8 445.5 106.9M429.9 83.0 431.3 87.9 432.5 91.7 434.2 95.5 436.3 100.2 438.7 105.2 441.3 109.4M425.2 84.9 426.6 89.8 428.1 93.8 430.0 97.6 432.4 102.4 434.8 107.6 437.0 111.9M428.6 104.5 430.8 109.7 432.5 114.1M583.7 209.8 579.5 213.1M587.0 214.0 582.5 217.2 578.1 220.2M590.0 217.6 585.5 220.7 581.2 223.5 577.5 226.5M592.7 221.4 588.5 224.3 584.7 227.2 581.2 230.3 577.7 233.8M591.8 228.3 588.5 231.6 585.3 235.0 581.6 238.4 577.3 241.8M595.5 232.3 592.6 235.8 589.2 239.3 585.3 242.6 580.9 245.6M584.7 210.0 588.1 214.0 591.0 217.7M577.4 208.9 580.6 213.3 583.6 217.3 586.5 220.8 589.5 224.4 592.8 228.5M576.1 216.5 579.1 220.3 582.3 223.6 585.7 227.4 589.5 231.7 593.5 235.9M578.5 226.5 582.3 230.5 586.4 235.1 590.3 239.4 593.4 243.1M578.8 233.9 582.7 238.6 586.4 242.7M129.4 158.3 126.1 161.8 122.4 165.3M136.3 158.2 133.2 161.9 129.9 165.6 126.1 169.4 122.2 173.2 118.5 177.0M140.4 161.7 137.3 165.3 133.8 169.1 129.9 173.0 126.2 176.9 122.8 180.3 119.5 183.5M144.6 164.8 141.1 168.4 137.3 172.2 133.4 176.1 129.9 179.8 126.7 183.1 123.5 186.3M148.2 168.1 144.3 171.7 140.2 175.5 136.4 179.3 133.2 183.0 130.2 186.5 127.0 190.1M151.3 171.7 147.1 175.2 143.0 179.0 139.4 182.8 136.4 186.6 133.6 190.3M154.3 175.0 150.1 178.7 146.3 182.5 143.1 186.3 140.2 190.0 137.2 193.9M157.9 178.6 154.1 182.5 150.7 186.2 147.7 189.8 144.5 193.4 140.9 197.2M130.5 158.3 134.3 161.9 138.4 165.2 142.2 168.3 145.4 171.6 148.2 175.2 151.3 178.7 155.3 182.6M127.2 161.8 131.0 165.6 134.9 169.0 138.4 172.1 141.3 175.4 144.0 179.0 147.5 182.5 151.9 186.3M123.6 165.3 127.3 169.4 131.1 172.9 134.5 176.0 137.4 179.3 140.4 182.8 144.2 186.2 148.9 189.8M119.5 169.0 123.4 173.3 127.3 176.8 130.9 179.7 134.1 183.0 137.4 186.5 141.3 189.9 145.7 193.4M119.7 177.0 123.9 180.3 127.8 183.1 131.2 186.5 134.6 190.3 138.3 193.8 142.1 197.2M422.6 167.2 420.0 171.3 417.5 175.4 415.0 179.7 412.4 183.8M426.4 169.8 423.8 173.5 421.4 177.4 419.0 181.5 416.5 185.7 414.0 189.9M430.5 171.7 428.0 175.4 425.7 179.6 423.4 184.0 420.9 188.4 418.5 192.7 416.3 197.2M435.2 173.6 432.6 177.8 430.2 182.5 427.8 187.2 425.3 191.5 422.9 195.6 420.7 199.8M440.0 176.2 437.3 180.9 434.8 185.7 432.2 190.1 429.5 194.1 427.0 197.9M444.5 178.9 441.6 183.6 439.0 188.1 436.3 192.2 433.6 196.0M448.4 181.0 445.5 185.5 443.0 190.0 440.4 194.1 437.9 198.3M447.1 192.2 444.9 196.6M421.4 167.4 425.2 170.1 429.2 172.0 433.8 173.9 438.6 176.5 443.1 179.3 447.1 181.5M414.9 168.7 418.8 171.6 422.6 173.9 426.7 175.7 431.3 178.2 436.0 181.2 440.4 184.0 444.3 186.0 448.2 188.0M412.4 173.3 416.3 175.8 420.2 177.8 424.4 179.9 428.9 182.8 433.5 186.0 437.7 188.6 441.7 190.4 445.9 192.6M413.8 180.1 417.8 182.0 422.1 184.3 426.5 187.4 430.9 190.4 435.0 192.6 439.1 194.5 443.6 196.9M411.1 184.2 415.2 186.1 419.6 188.6 424.0 191.7 428.3 194.4 432.4 196.4M412.7 190.2 417.2 193.0 421.6 195.9 425.8 198.2M163.6 68.7 159.0 71.0 154.2 73.3M175.3 68.7 170.9 70.7 166.3 73.0 161.3 75.5 156.1 77.9M181.2 71.7 177.1 73.7 172.7 76.1 167.9 78.6 162.7 81.1 157.6 83.3 152.7 85.3M182.9 76.1 178.6 78.4 173.9 81.0 169.0 83.7 164.0 86.2 159.2 88.4 154.8 90.3 150.7 92.0M185.0 80.6 180.3 82.8 175.5 85.2 170.7 87.6 166.1 90.0 161.7 92.2 157.6 94.4 153.4 96.4M187.4 85.7 182.5 87.7 177.7 89.5 173.2 91.5 169.0 93.6 164.8 95.8 160.5 98.2 155.9 100.5M189.5 90.8 184.8 92.6 180.3 94.3 176.1 96.1 172.0 98.2 167.5 100.5 162.8 102.9M169.4 105.7 164.3 108.2M183.5 76.3 185.7 80.9 188.1 86.1 190.3 91.1M175.9 69.0 177.7 74.0 179.2 78.6 181.0 83.1 183.2 88.0 185.5 92.9M168.9 66.6 171.6 71.0 173.4 76.4 174.6 81.2 176.2 85.4 178.5 89.8 181.1 94.6 183.4 98.9M164.4 68.8 167.0 73.3 168.5 78.9 169.7 83.9 171.4 87.7 174.0 91.8 176.9 96.5 179.3 101.0M156.8 67.5 159.8 71.2 162.0 75.8 163.4 81.4 164.7 86.4 166.8 90.1 169.7 93.8 172.7 98.5 174.9 103.5M155.0 73.5 156.8 78.2 158.2 83.7 159.9 88.6 162.5 92.4 165.5 96.0 168.3 100.8 170.1 106.0M153.4 85.7 155.5 90.6 158.3 94.5 161.2 98.4 163.5 103.2 165.0 108.4M151.4 92.3 154.1 96.6 156.7 100.7M626.0 84.3 622.3 88.0 618.7 91.8 614.8 95.4 610.4 98.6M625.2 93.0 621.4 96.8 617.2 100.1 613.0 103.0 609.2 105.8M624.4 100.9 620.1 103.9 616.1 106.7 612.7 109.7 609.5 112.9M628.1 103.7 623.7 106.7 619.7 109.8 616.3 113.2 612.8 116.7 608.9 120.2M627.4 110.2 623.5 113.8 619.7 117.6 615.7 121.2 611.4 124.5M627.1 118.9 623.0 122.8 618.6 126.1M626.5 127.0 622.0 130.0M623.4 80.8 626.4 84.4M619.6 84.1 622.7 88.1 625.6 93.1M616.2 87.6 619.1 91.9 621.8 96.8 624.9 100.9M612.4 91.1 615.2 95.5 617.6 100.2 620.6 103.9 624.2 106.7 627.9 110.2M610.8 98.7 613.4 103.1 616.6 106.7 620.2 109.8 623.9 113.9 627.5 119.0M609.6 105.9 613.1 109.7 616.7 113.2 620.2 117.7 623.5 122.8 627.0 127.0M606.3 109.0 609.9 113.0 613.2 116.7 616.2 121.3 619.1 126.2 622.5 130.0M606.4 116.4 609.3 120.2 611.8 124.6M197.9 87.8 195.4 92.0 192.9 95.7M204.3 85.1 202.1 89.5 199.4 93.6 196.9 97.3 194.9 101.2M210.2 82.2 208.4 86.8 206.0 91.3 203.4 95.3 201.0 99.2 199.3 103.4 197.8 108.1M215.7 79.8 214.1 84.3 212.4 88.8 210.1 93.1 207.6 97.1 205.4 101.1 203.9 105.5 202.4 110.3M219.6 82.2 218.2 86.5 216.5 90.7 214.3 94.7 211.9 98.7 209.9 102.8 208.4 107.4 207.0 112.2 205.0 116.9M222.6 88.3 220.8 92.3 218.6 96.3 216.2 100.4 214.3 104.8 212.8 109.5 211.3 114.3 209.3 118.8M227.2 90.0 225.2 94.2 222.7 98.4 220.3 102.7 218.3 107.2 216.9 111.9 215.4 116.4M231.7 92.0 229.4 96.6 226.7 101.1 224.1 105.4M212.4 81.2 216.3 83.4 220.5 85.6 225.0 87.4M206.8 83.9 210.8 85.8 214.7 87.8 219.0 89.7 223.4 91.4 227.9 93.3 232.1 95.9M200.6 86.8 204.7 88.5 208.6 90.3 212.7 92.1 216.9 93.8 221.3 95.4 225.4 97.7 229.3 100.5M193.9 89.3 198.1 91.1 202.1 92.7 206.1 94.4 210.3 96.2 214.6 97.7 218.8 99.5 222.8 102.0 226.6 104.8M191.5 93.3 195.5 94.9 199.4 96.5 203.6 98.4 208.0 100.1 212.4 101.8 216.6 103.9 220.6 106.4 224.5 108.9M193.2 98.4 197.3 100.4 201.7 102.5 206.3 104.4 210.8 106.3 215.0 108.5 219.1 110.9M200.3 107.1 204.9 109.1 209.4 111.1 213.6 113.3 217.7 115.4M203.2 113.9 207.6 115.9 211.9 117.8M409.2 132.3 404.6 135.3 400.0 138.1 395.9 140.9M412.3 136.3 407.6 139.2 403.1 142.1 399.0 145.2 395.2 148.3 391.4 151.3 387.4 154.0M415.5 140.6 410.7 143.2 406.3 146.2 402.1 149.3 398.0 152.5 393.7 155.4 389.5 158.0M418.3 145.1 413.8 147.7 409.4 150.6 404.9 153.7 400.4 156.7 395.8 159.4 391.3 161.8M420.9 149.1 416.7 151.9 412.4 154.9 407.8 157.9 403.0 160.8 398.3 163.6 393.9 166.3M423.6 152.9 419.7 155.8 415.5 158.8 411.0 161.8 406.3 164.8 401.7 167.8 397.3 171.0M426.3 157.7 422.5 160.6 418.4 163.3 414.0 166.0 409.6 169.0 405.3 172.2M406.3 127.8 408.9 132.3 412.0 136.3 415.2 140.5 418.0 145.0 420.6 149.0 423.3 152.8 426.1 157.6M401.9 130.9 404.3 135.2 407.3 139.1 410.4 143.2 413.5 147.7 416.4 151.8 419.4 155.8 422.3 160.5 424.8 165.7M399.8 138.1 402.8 142.0 406.0 146.1 409.1 150.6 412.1 154.9 415.2 158.8 418.1 163.2 420.6 168.1M395.6 140.8 398.7 145.1 401.8 149.3 404.7 153.7 407.5 157.9 410.7 161.8 413.8 166.0 416.5 170.7M391.8 143.6 395.0 148.2 397.7 152.5 400.1 156.6 402.7 160.8 405.9 164.7 409.3 168.9M391.2 151.2 393.5 155.4 395.5 159.3 398.0 163.5 401.4 167.8 405.0 172.2M389.2 157.9 391.1 161.7 393.6 166.2 397.0 170.9M92.2 66.2 88.8 70.0 85.9 73.5M99.2 65.9 95.8 69.6 92.8 73.0 90.0 76.2 87.0 79.3M102.6 68.9 99.7 72.3 97.0 75.4 94.1 78.6 90.8 81.9M109.3 68.7 106.3 72.1 103.6 75.3 100.9 78.4 97.7 81.7 94.0 85.4M116.2 69.0 112.9 72.6 110.0 75.9 107.3 79.0 104.2 82.1 100.7 85.5 96.9 89.2M123.3 69.1 119.7 72.9 116.4 76.4 113.5 79.6 110.6 82.5 107.3 85.6 103.6 88.9M123.1 76.1 119.9 79.4 116.9 82.3 113.8 85.3 110.4 88.5M120.4 85.0 117.2 88.3M120.6 69.1 124.1 72.7M113.5 68.8 117.1 72.9 120.5 76.3 124.0 78.9M106.8 68.7 110.4 72.4 113.9 76.3 117.4 79.5 120.9 82.0M96.5 66.1 100.1 69.1 103.8 72.1 107.6 75.7 111.1 79.4 114.5 82.5 117.9 85.1 121.4 88.3M89.5 66.2 93.1 69.8 97.1 72.5 101.2 75.2 104.9 78.8 108.2 82.4 111.3 85.4 114.6 88.3M86.2 70.1 90.2 73.2 94.4 75.7 98.3 78.4 101.8 81.9 104.8 85.6 107.8 88.7M87.3 76.4 91.4 78.8 95.1 81.7 98.2 85.4 101.0 89.1M342.5 70.4 340.8 75.3M349.8 67.4 347.5 72.7 346.0 77.6M354.8 69.7 352.7 74.8 351.5 79.4 350.4 83.9M359.7 71.5 357.8 76.1 356.7 80.5 355.6 85.3 353.7 90.6M366.7 67.7 364.3 72.6 362.5 77.2 361.4 81.9 360.2 87.2 358.1 92.7 355.6 97.9M371.2 69.0 368.8 74.0 367.0 78.8 365.8 83.9 364.5 89.3 362.5 94.5M375.8 70.9 373.4 76.1 371.6 81.2 370.5 86.1M380.8 73.4 378.3 78.7M368.3 70.5 372.8 72.1 377.6 74.6M346.6 68.7 351.7 71.0 356.7 72.9 361.5 74.1 366.1 75.3 370.6 77.3 375.3 79.7M339.8 71.6 344.6 73.8 349.9 76.0 355.2 77.5 360.1 78.6 364.6 80.1 369.1 82.3 374.0 84.4M343.2 78.7 348.7 80.6 354.2 82.0 359.1 83.3 363.5 85.2 368.0 87.3M352.8 86.8 357.6 88.6 361.9 90.7 366.4 92.4M355.3 94.1 359.6 96.0M99.0 154.9 94.6 157.4 90.0 160.1M105.8 157.0 101.5 159.4 97.1 162.1 92.8 164.9 88.7 167.8 84.8 170.4M112.6 159.2 108.3 161.6 103.9 164.2 99.7 167.0 95.8 169.9 92.1 172.5 88.3 174.9 84.3 177.0M119.1 160.7 114.7 163.0 110.3 165.4 106.0 168.1 102.1 171.0 98.5 173.7 95.0 176.3 91.1 178.6 86.7 180.7M121.2 164.5 116.7 166.9 112.2 169.3 108.1 171.9 104.4 174.5 100.9 177.0 97.2 179.4 93.1 181.8 88.5 184.3M119.0 171.6 114.6 174.0 110.6 176.3 106.8 178.5 103.1 180.7 99.1 183.1 94.8 185.7M121.7 176.3 117.5 178.6 113.5 180.7 109.5 182.8 105.3 185.1 100.9 187.6 96.6 190.4M116.6 184.5 112.2 186.7 107.6 189.2 103.0 192.0 98.8 194.9M115.4 159.9 117.5 163.5 119.6 167.8 122.1 172.7M108.8 158.1 111.1 162.2 113.0 165.9 115.1 170.2 117.6 175.1 120.7 179.4M101.9 155.7 104.5 160.4 106.7 164.8 108.7 168.5 110.8 172.6 113.5 177.3 116.6 181.6 119.7 185.0M95.2 154.1 97.6 158.2 100.1 163.1 102.5 167.6 104.7 171.3 107.0 175.1 109.6 179.4 112.5 183.6 115.3 187.2M90.7 156.6 93.1 160.9 95.8 165.9 98.6 170.5 101.1 174.0 103.4 177.5 105.8 181.6 108.2 185.9 110.6 189.6M88.6 163.7 91.8 168.7 95.0 173.2 97.6 176.6 99.7 179.8 101.7 183.9 103.7 188.4 105.9 192.4M88.0 171.4 91.3 175.7 93.8 179.0 95.7 182.3 97.4 186.5 99.3 191.2 101.5 195.3M84.2 173.7 87.3 177.8 89.5 181.3 91.3 184.8M586.7 64.4 582.1 66.6M597.9 64.3 593.2 66.5 588.6 68.6 584.2 70.6M608.7 64.4 604.3 66.5 599.6 68.6 595.0 70.6 590.7 72.5 586.8 74.4M618.8 64.1 614.7 66.3 610.3 68.3 605.8 70.3 601.3 72.2 597.0 74.1 593.0 76.2 589.2 78.3M624.9 66.7 620.7 68.9 616.4 70.9 612.0 72.6 607.5 74.2 603.2 75.9 599.1 77.8 595.2 80.0 591.3 82.5M627.2 71.4 622.9 73.6 618.4 75.4 614.0 77.1 609.7 78.6 605.6 80.3 601.6 82.2 597.4 84.4M625.0 77.2 620.6 79.2 616.4 81.1 612.4 83.0 608.4 84.9 604.2 87.0M626.8 80.5 622.7 82.7 618.8 84.8 615.0 87.0 611.0 89.3M623.2 62.0 625.3 66.9M619.1 64.3 621.1 69.1 623.3 73.7 625.4 77.3M613.3 62.3 615.0 66.4 616.8 71.0 618.8 75.6 621.0 79.3 623.0 82.8M609.1 64.5 610.7 68.5 612.3 72.8 614.4 77.3 616.8 81.2 619.2 84.9M602.9 62.3 604.7 66.6 606.2 70.4 607.9 74.4 610.2 78.8 612.9 83.1 615.4 87.2M598.3 64.4 600.0 68.7 601.6 72.3 603.6 76.0 606.0 80.5 608.9 85.1 611.4 89.4M593.6 66.6 595.4 70.7 597.3 74.2 599.5 77.9 602.0 82.4 604.6 87.2M587.1 64.5 589.0 68.7 591.1 72.6 593.3 76.3 595.6 80.1 597.8 84.6M582.5 66.8 584.6 70.7 587.2 74.5 589.6 78.5M517.6 65.2 512.6 67.3 507.5 69.3 502.4 71.1 497.3 72.6M523.9 68.2 518.6 70.3 513.6 72.6 508.7 74.8 503.9 76.7 498.9 78.3M525.1 73.7 519.8 75.5 514.9 77.4 510.3 79.4 505.7 81.2 500.9 82.9M526.6 79.1 521.5 80.7 516.7 82.3 512.2 83.9 507.7 85.5 503.0 87.2M523.5 85.4 518.7 87.1 514.0 88.9M522.8 67.7 524.0 73.1 525.5 78.5M516.6 64.7 517.7 69.8 518.8 75.0 520.4 80.1 522.4 85.0M511.6 66.8 512.6 72.1 513.9 77.0 515.7 81.8 517.6 86.6M506.5 68.7 507.7 74.3 509.3 79.0 511.2 83.4 513.0 88.4M499.9 64.8 501.4 70.4 502.8 76.2 504.6 80.9 506.7 85.1 508.5 90.1M494.6 66.6 496.3 71.8M336.0 179.1 333.7 183.6 330.9 188.3 328.3 192.7 326.2 196.6M342.2 177.2 340.3 181.5 337.8 186.0 335.0 190.5 332.4 194.8 330.4 198.7 328.5 202.7M348.0 175.9 346.4 180.0 344.4 184.1 341.8 188.4 339.1 192.7 336.8 196.7 335.0 200.6M354.1 174.6 352.2 178.7 350.5 182.5 348.5 186.4 345.9 190.6 343.4 194.7 341.3 198.6 339.7 202.5M358.3 177.0 356.5 180.8 354.8 184.5 352.6 188.5 350.1 192.7 347.6 196.9 345.7 200.8M360.9 182.5 359.1 186.5 356.8 190.9 354.2 195.3 351.7 199.6 349.7 203.5M363.5 189.0 361.0 193.6 358.1 198.1 355.5 202.2M350.2 175.5 354.3 178.1 358.6 180.1 363.0 181.8M344.3 176.7 348.5 179.5 352.7 181.9 356.9 183.8 361.4 185.8 365.8 188.3M338.3 178.4 342.5 180.9 346.6 183.5 350.8 185.8 355.0 187.8 359.2 190.2 363.4 192.9M331.8 180.6 336.1 182.8 340.2 185.3 344.2 187.7 348.4 189.8 352.5 192.1 356.6 194.8 360.5 197.5M329.3 185.3 333.4 187.4 337.4 189.7 341.5 191.9 345.8 194.0 350.0 196.3 353.9 199.1 357.7 201.6M326.6 189.8 330.6 191.9 334.8 194.0 339.1 196.0 343.6 198.0 347.8 200.4 351.7 203.0M324.4 194.0 328.4 196.0 332.7 198.0 337.3 199.8 341.9 201.8M388.0 71.8 383.1 74.5 378.2 77.0M399.1 70.3 394.9 73.5 390.3 76.5 385.5 79.1M408.8 69.2 405.1 71.9 401.2 74.8 397.0 77.8 392.6 80.4 388.2 82.8M411.5 73.9 407.6 76.5 403.5 79.2 399.3 81.8 395.2 84.2M414.8 77.9 410.4 80.5M408.0 68.9 410.7 73.7 413.9 77.8M404.3 71.7 406.8 76.3 409.6 80.4M398.3 70.2 400.4 74.7 402.7 79.0 405.2 82.9M391.7 68.6 394.1 73.3 396.2 77.6 398.5 81.6 401.0 85.3M387.2 71.5 389.4 76.3 391.8 80.3 394.4 84.0 397.2 87.7M380.0 69.0 382.3 74.2 384.6 78.9 387.4 82.7M487.3 120.8 483.3 123.9 478.9 126.9 474.3 129.9 469.8 133.0 465.8 136.1 462.1 139.2 458.3 142.1M490.9 124.7 486.7 127.5 482.0 130.5 477.3 133.7 473.0 137.1 469.1 140.4 465.4 143.4 461.3 146.2M489.4 132.0 484.6 135.0 479.9 138.3 475.7 141.7 471.8 144.9 467.7 147.8 463.3 150.4M491.9 136.4 487.1 139.6 482.7 143.0 478.5 146.3 474.4 149.4 469.9 152.2 465.3 155.0M490.3 143.6 486.2 146.9 482.1 150.2 477.5 153.3 472.7 156.4 468.1 159.5M494.1 148.0 490.3 151.0 486.0 154.1M483.5 120.6 487.2 124.2 490.5 128.3M479.4 123.8 482.8 127.1 485.8 131.1 488.2 135.8 490.9 140.0M475.0 126.7 478.2 130.1 481.0 134.2 483.5 139.0 486.5 143.4 490.2 147.3 494.2 152.0M470.4 129.6 473.6 133.3 476.4 137.6 479.1 142.5 482.3 146.7 486.2 150.5 490.1 154.9M466.0 132.5 469.5 136.6 472.4 141.0 475.1 145.7 478.1 149.9 481.8 153.6M462.1 135.4 465.8 139.8 468.6 144.1 470.9 148.7 473.6 152.9 476.9 156.8M458.3 138.4 462.0 142.8 464.6 147.0 466.5 151.4 468.9 155.8 472.1 160.0M224.4 69.0 220.2 71.4 216.0 73.8M230.9 71.7 226.4 74.0 222.1 76.0 218.1 78.2 214.3 80.5M242.5 71.5 237.9 74.3 233.3 76.7 228.7 78.8 224.5 80.8 220.6 82.8M253.2 69.9 249.3 72.6 245.1 75.4 240.7 78.0 236.1 80.3 231.7 82.5 227.6 84.7 223.6 87.0M251.9 76.5 247.9 78.8 243.6 81.2 239.3 83.5 235.1 85.9 230.9 88.3 226.7 90.8M238.0 90.4 233.7 92.9M250.4 69.3 252.8 73.3M246.2 72.2 248.9 75.9 251.6 79.8M239.3 70.6 241.8 75.0 244.7 78.4 247.4 82.0M234.7 73.3 237.3 77.6 240.3 80.7 243.2 84.3M227.9 70.4 230.1 75.6 232.7 79.8 235.9 83.0 239.0 86.8M221.6 68.1 223.5 72.7 225.6 77.6 228.3 81.9 231.6 85.3 234.8 89.3 237.3 94.5M217.4 70.6 219.3 74.9 221.5 79.6 224.3 84.0 227.6 87.7 230.6 91.8M215.3 77.2 217.7 81.7M170.2 105.1 167.0 110.2 164.0 114.8M177.3 102.0 174.8 107.0 171.7 111.8 169.2 116.3 167.6 121.0 166.2 126.2 164.2 131.6M185.7 95.1 183.7 99.2 181.8 103.7 179.2 108.6 176.5 113.5 174.4 118.4 172.9 123.5 171.3 128.9 168.9 134.0M192.8 92.9 190.2 96.9 188.1 101.1 186.2 105.8 183.8 111.0 181.2 116.1 179.2 121.1 177.5 126.0 175.6 130.9 172.9 135.6M194.7 98.9 192.7 103.4 190.8 108.7 188.4 114.1 185.8 119.0 183.6 123.4 181.8 127.8 179.6 132.3 176.9 136.9M197.7 106.2 195.8 111.7 193.3 116.8 190.5 121.2 188.2 125.2 186.2 129.5 184.0 134.2M200.9 114.1 198.2 119.0 195.4 123.1 193.1 127.2M206.0 116.3 203.3 121.0 200.5 125.2M184.5 95.4 189.1 97.3 193.6 99.2M178.1 97.6 182.7 99.7 187.1 101.5 191.7 103.8 196.6 106.6 201.8 109.3M176.2 102.5 180.7 104.2 185.1 106.2 189.7 109.1 194.6 112.1 199.7 114.6 204.8 116.8M169.0 105.6 173.5 107.5 178.0 109.1 182.6 111.4 187.2 114.4 192.0 117.2 196.9 119.4 202.0 121.4M165.7 110.7 170.5 112.3 175.3 113.9 180.1 116.5 184.7 119.4 189.3 121.6 194.2 123.5 199.3 125.6M162.8 115.3 168.0 116.8 173.2 118.8 178.1 121.5 182.6 123.8 187.1 125.6 191.9 127.6M166.4 121.4 171.8 123.9 176.6 126.5 180.7 128.3 185.1 129.9 190.0 132.3M165.0 126.6 170.2 129.3 174.6 131.4 178.5 132.8 182.8 134.6M171.8 136.1 175.7 137.4M627.8 205.2 623.1 206.8M629.1 208.8 624.4 210.5 619.9 212.4M626.6 215.5 622.1 217.3 617.4 219.2M629.4 221.5 624.7 223.3 619.7 224.9M631.8 226.9 627.0 228.7 621.8 230.2 616.6 231.6M628.5 232.6 623.5 234.2M629.7 236.4 625.2 238.1M631.3 241.5 627.2 243.2M628.5 197.9 630.0 202.5M623.8 199.6 625.2 204.3 626.3 207.9 628.0 212.1M620.4 205.7 621.7 209.6 623.5 213.9 626.1 219.6 628.7 225.5 630.6 230.0M619.0 215.8 621.4 221.4 623.8 227.2 625.6 231.7 627.0 235.3 628.6 239.8M618.6 228.6 620.5 233.3M611.8 125.6 608.7 130.3 606.4 135.0 604.6 139.8 602.4 144.4 599.8 148.8 597.0 153.4 594.3 158.5M616.2 128.9 613.5 133.1 611.5 137.4 609.7 141.9 607.5 146.4 604.6 150.9 601.8 155.7 599.1 161.1 596.5 166.5M624.2 127.1 621.2 131.2 618.7 135.2 616.8 139.5 614.7 144.2 612.0 148.9 608.9 153.7 606.0 158.7 603.6 164.0M626.5 132.9 624.0 137.2 621.8 142.2 619.2 147.4 616.1 152.2 612.9 156.9 610.2 161.6 608.0 166.4M628.8 140.2 626.2 145.6 623.4 150.7 620.2 155.2 617.2 159.5 614.9 163.9M627.8 153.1 624.9 157.3 622.4 161.6 620.2 166.4M605.7 123.2 609.7 126.0 614.0 129.3 619.0 131.8 624.2 133.6 629.3 135.7M606.7 130.8 611.4 133.7 616.6 135.8 621.9 137.9 626.8 140.8M604.5 135.6 609.5 138.1 614.8 140.2 619.8 142.8 624.2 146.2 628.5 149.2M602.5 140.5 607.7 142.6 612.7 144.8 617.2 147.8 621.3 151.2 625.6 153.8M600.3 145.1 605.3 147.0 609.9 149.4 614.0 152.6 618.0 155.7 622.7 158.0 628.0 160.1M597.6 149.5 602.5 151.5 606.9 154.2 610.9 157.4 615.2 160.1 620.2 162.3 625.7 164.9M594.8 154.1 599.7 156.5 604.1 159.3 608.3 162.2 612.9 164.6M592.1 159.3 597.0 161.9 601.6 164.7M552.4 180.1 548.3 184.2M560.0 180.0 556.0 184.2 552.0 187.9 548.4 191.2M563.0 183.2 559.0 187.0 555.3 190.6 552.0 194.0M569.9 181.9 565.9 185.7 562.1 189.5 558.8 193.2M573.4 185.2 569.4 189.1 565.9 193.0M577.4 189.4 573.4 193.3M574.5 185.2 578.5 189.4M563.9 183.0 566.9 185.6 570.4 189.1 574.5 193.3 578.7 196.9M553.5 180.1 557.0 184.1 559.9 186.9 563.0 189.4 566.8 193.0M575.5 200.4 579.6 203.6M545.1 180.0 549.4 184.2 553.0 187.9 556.2 190.4 559.7 193.2M549.3 191.2 552.9 193.9M77.4 115.7 73.3 117.3 69.2 118.8M92.9 114.9 88.3 116.7 83.7 118.5 79.2 120.0 74.9 121.4 70.5 122.9 66.2 124.4M94.6 119.6 90.0 121.4 85.3 123.0 80.6 124.3 75.9 125.6 71.4 126.9 67.1 128.4M96.0 123.5 91.5 125.4 86.7 127.1 81.8 128.6 77.0 130.0 72.5 131.4 68.3 133.0M97.5 127.3 93.0 129.2 88.3 131.1 83.5 133.0 78.8 134.7 74.4 136.4 70.3 138.1 66.4 139.7M99.2 131.8 94.8 133.6 90.3 135.6 85.8 137.6 81.4 139.5 77.1 141.3 72.9 143.0 68.7 144.5M96.6 138.7 92.5 140.7 88.3 142.5 84.1 144.3 79.8 145.8 75.4 147.3M94.3 145.5 90.3 147.2 86.1 148.7M97.6 124.0 99.2 128.0M90.1 117.6 91.8 122.1 93.2 125.9 94.8 129.8 96.6 134.5M83.5 114.7 85.5 119.3 87.1 123.8 88.5 127.8 90.2 131.7 92.2 136.4 94.2 141.6 95.9 146.1M79.2 116.5 81.0 120.8 82.3 125.2 83.7 129.4 85.5 133.7 87.8 138.4 90.1 143.4 91.9 148.0 93.2 151.6M73.1 113.7 75.0 118.1 76.5 122.2 77.5 126.4 78.8 130.9 80.8 135.6 83.4 140.3 86.0 145.1 87.8 149.5M69.1 115.3 70.9 119.6 72.1 123.6 72.9 127.7 74.2 132.4 76.3 137.4 79.1 142.1 81.7 146.6 83.3 150.8M67.7 125.1 68.6 129.2 69.9 134.0 72.2 139.1 74.9 143.8 77.3 148.0M68.2 140.7 70.6 145.4M537.5 65.1 533.3 66.9 528.8 68.8 524.1 71.0M548.1 65.3 544.2 67.4 540.1 69.5 535.5 71.6 530.7 73.7 525.9 75.8M554.3 66.7 550.5 69.0 546.4 71.4 542.0 73.8 537.4 76.1 532.6 78.3 528.0 80.4 523.6 82.3M552.2 73.6 548.0 76.0 543.5 78.4 539.0 80.6 534.6 82.5 530.3 84.4 526.1 86.3M549.4 81.1 545.1 83.2 541.0 85.1 537.0 86.8M552.1 63.1 554.4 66.7M548.3 65.3 550.6 69.0 552.3 73.7M544.4 67.4 546.5 71.4 548.1 76.1 549.6 81.1M537.7 65.2 540.2 69.5 542.2 73.8 543.7 78.5 545.3 83.3 547.4 87.5M533.5 66.9 535.7 71.6 537.5 76.2 539.2 80.6 541.1 85.2 543.6 89.3M526.9 64.3 529.0 68.9 530.9 73.8 532.7 78.3 534.7 82.6 537.2 86.8M526.1 75.9 528.1 80.4 530.4 84.4 533.1 88.4M74.8 84.6 73.5 89.3 72.1 93.8 70.2 98.1 68.4 102.6M81.1 81.7 79.6 86.2 78.1 91.0 76.3 95.5 74.4 100.0 72.5 104.5 71.1 109.2 70.1 114.1M87.4 78.7 86.0 82.9 84.2 87.7 82.3 92.7 80.3 97.5 78.4 102.0 76.7 106.5 75.5 111.2 74.5 115.9M90.6 84.3 88.5 89.5 86.3 94.7 84.4 99.4 82.7 103.8 81.3 108.2 80.2 112.9 79.1 117.5M95.0 86.1 92.7 91.4 90.6 96.4 89.0 100.8 87.6 105.1 86.4 109.5 85.2 114.4M91.7 111.0 90.2 116.1M81.3 81.6 86.2 82.8 90.9 84.1 95.3 86.0M75.1 84.5 79.9 86.1 84.5 87.6 88.7 89.3 92.9 91.2M69.0 87.3 73.8 89.2 78.3 90.8 82.5 92.6 86.6 94.5 90.9 96.3 95.5 97.5M67.6 91.9 72.3 93.7 76.6 95.4 80.6 97.4 84.7 99.3 89.2 100.7 94.3 101.8M70.5 98.0 74.6 99.9 78.6 101.9 83.0 103.7 87.9 104.9 93.2 106.1M68.6 102.5 72.8 104.4 77.0 106.4 81.6 108.1 86.7 109.4 92.0 110.9M67.1 107.2 71.4 109.1 75.7 111.1 80.4 112.7 85.4 114.3 90.5 116.0M70.3 113.9 74.7 115.8M483.1 99.2 480.5 102.9M492.8 93.4 490.5 97.4 487.9 101.2 484.8 105.4 481.7 110.0 478.9 115.0M502.2 87.6 499.8 91.8 497.5 96.0 494.9 100.2 492.0 104.2 488.8 108.5 485.8 113.1 483.2 117.8 481.0 122.2M508.7 86.0 506.4 90.3 503.9 94.8 501.4 99.3 498.7 103.4 495.7 107.3 492.7 111.4 489.9 115.7 487.7 120.0 485.6 124.1M512.7 88.8 510.1 93.3 507.5 97.9 504.9 102.2 502.2 106.0 499.4 109.7 496.6 113.7 494.3 118.0 492.3 122.3M516.6 91.4 513.9 95.9 511.2 100.3 508.6 104.3 506.0 108.1 503.3 112.0 500.9 116.4 498.7 120.9M515.4 102.3 512.8 106.4 510.2 110.6 507.7 115.0 505.2 119.7M514.8 113.5 512.1 118.2M504.0 87.2 508.1 89.9 511.8 92.8 515.7 95.3M497.1 88.9 501.7 91.4 505.6 94.5 509.2 97.4 513.0 99.7 517.3 101.8M494.7 92.9 499.3 95.7 503.1 99.0 506.5 101.7 510.3 103.8 514.7 106.0M487.4 94.9 492.4 97.0 496.8 99.9 500.4 103.1 503.9 105.6 507.8 107.6 512.2 110.2 516.7 113.1M485.1 98.6 489.8 100.9 493.9 104.0 497.5 107.0 501.2 109.3 505.2 111.6 509.6 114.6 514.0 117.7M482.5 102.4 486.8 105.0 490.7 108.2 494.5 110.9 498.4 113.2 502.7 116.0 507.1 119.4M479.5 106.6 483.6 109.6 487.6 112.6 491.8 115.1 496.1 117.5 500.5 120.6M480.7 114.5 485.0 117.3 489.5 119.4 494.1 121.9M72.0 204.2 68.7 208.0 65.5 212.1M76.2 207.4 72.7 211.2 69.3 215.2 66.0 219.0M79.8 210.8 76.2 214.6 72.7 218.4 69.4 222.1 66.2 225.6M82.8 213.9 79.3 217.7 76.1 221.3 73.0 224.8 69.9 228.3M82.8 220.8 79.9 224.3 77.1 227.6 74.1 231.2M68.8 204.5 73.1 207.5 76.9 210.9 80.1 214.2 83.2 217.3M65.6 208.5 69.7 211.5 73.3 214.8 76.6 218.0 80.0 221.0M66.5 215.5 69.9 218.7 73.3 221.6 77.0 224.4 81.2 227.5M66.6 222.4 70.2 225.1 74.1 227.8 78.3 230.9M247.2 145.9 243.2 147.8 239.0 149.5 234.5 150.7 229.5 151.8M253.2 148.0 248.9 150.2 244.7 152.2 240.4 153.9 235.6 155.4 230.6 156.6 225.4 157.8M264.5 149.1 259.7 150.7 255.0 152.4 250.4 154.1 245.7 155.9 240.9 157.5 236.1 159.1 231.2 160.7 226.4 162.4M262.0 155.7 257.0 157.2 251.9 158.8 246.8 160.4 241.8 161.9 237.0 163.5 232.4 165.2 227.9 167.0M264.0 160.5 258.9 162.2 253.6 164.0 248.5 165.8 243.6 167.6 239.1 169.3 234.6 170.8 230.1 172.2M265.5 165.0 260.4 166.8 255.4 168.8 250.6 171.0 246.1 173.2 241.7 175.1 237.2 176.6M266.5 169.8 261.7 171.4 257.1 173.3 252.6 175.5 248.3 177.6 243.9 179.5 239.3 181.1M263.2 176.3 258.7 178.0 254.3 179.7 249.8 181.4 245.2 183.0 240.5 184.6M260.1 147.0 262.3 151.9 264.6 156.9M255.5 148.8 257.6 153.5 259.6 158.5 261.4 163.2 262.7 167.8 263.9 172.6 265.6 177.6M249.4 146.8 251.1 150.8 252.7 155.1 254.4 160.1 256.2 165.1 257.8 169.7 259.3 174.3 261.0 179.2M243.3 143.8 245.4 148.9 246.8 152.8 247.8 156.8 249.2 161.7 251.1 167.1 253.1 171.9 254.9 176.3 256.5 180.8M239.2 145.4 241.3 150.7 242.3 154.7 242.9 158.4 244.2 163.3 246.2 169.1 248.6 174.2 250.5 178.2 251.9 182.4M234.8 146.9 236.8 152.1 237.6 156.3 238.1 160.0 239.4 164.9 241.7 170.9 244.2 176.2 246.1 180.1 247.2 183.9 248.2 188.7M230.1 148.2 231.9 153.3 232.7 157.7 233.3 161.6 234.8 166.5 237.2 172.5 239.8 177.9 241.6 181.8 242.5 185.4M226.7 154.3 227.6 159.0 228.6 163.4 230.3 168.2 232.7 173.9M181.0 136.2 177.1 139.7M206.9 120.6 202.8 123.6 198.9 126.6 195.4 129.8 192.0 133.2 188.3 136.8 184.4 140.4 180.6 143.8 177.2 147.4M210.1 123.6 206.3 126.8 202.8 130.2 199.6 133.8 196.1 137.6 192.3 141.2 188.3 144.5 184.5 147.8 181.1 151.3M213.2 126.5 209.7 129.9 206.5 133.7 203.4 137.7 199.9 141.5 196.0 144.9 192.0 148.0 188.4 151.1 184.9 154.4M216.0 129.9 212.8 133.6 209.8 137.6 206.6 141.5 203.0 145.1 199.2 148.3 195.4 151.3 191.9 154.4 188.4 157.7M219.0 134.0 215.8 137.8 212.8 141.7 209.5 145.4 205.8 148.7 202.2 151.8 198.7 155.0 195.3 158.3 191.8 161.8M222.4 138.0 219.3 141.6 216.1 145.3 212.6 148.7 208.9 151.9 205.4 155.2 202.1 158.7 198.8 162.3 195.2 165.8M226.6 141.5 223.5 145.0 220.0 148.4 216.2 151.6 212.5 154.9 209.0 158.5 205.7 162.2 202.3 165.9M231.2 145.2 227.9 148.6 224.0 151.8 219.9 154.9 216.1 158.3 212.6 162.1 209.2 165.9M202.8 120.5 206.2 123.7 209.5 126.7 212.6 129.8 215.5 133.7 218.7 137.9 222.5 141.6 227.0 145.0 231.4 149.0M198.6 123.5 202.3 126.8 206.0 130.1 209.4 133.6 212.5 137.6 215.7 141.7 219.4 145.1 223.6 148.4 227.6 152.1M194.8 126.4 198.8 130.0 202.8 133.9 206.4 137.6 209.4 141.6 212.4 145.4 215.9 148.5 219.7 151.6 223.4 155.2M191.4 129.5 195.5 133.6 199.5 137.7 203.0 141.5 206.0 145.3 208.8 148.8 212.1 151.8 215.8 154.8 219.4 158.5M187.9 132.9 191.9 137.2 195.8 141.4 199.3 145.0 202.2 148.5 205.2 152.0 208.5 155.1 212.2 158.3 215.7 162.1M184.2 136.4 188.0 140.8 191.8 144.7 195.3 148.1 198.5 151.5 201.7 155.2 205.2 158.7 208.8 162.1 212.3 165.9M177.3 136.3 180.3 139.9 184.0 144.2 187.9 147.9 191.6 151.1 195.0 154.6 198.4 158.6 201.9 162.3 205.5 165.9M180.4 147.6 184.4 151.2 188.1 154.3 191.5 157.9 195.0 162.1 198.5 165.9M521.2 187.5 519.3 192.0 516.4 196.9M527.4 185.3 526.0 189.6 523.8 194.2M533.9 183.0 532.3 187.3 530.6 191.6 528.0 196.1M541.2 180.8 539.0 185.4 537.2 189.6 535.1 193.8M546.5 183.6 544.1 188.1 541.9 192.2 539.4 196.4M548.7 190.6 546.4 194.5M543.0 180.3 548.3 183.1M535.5 182.5 540.7 185.0 545.7 187.8M528.9 184.8 533.8 186.9 538.8 189.2 543.5 191.8 548.0 194.0M522.7 187.0 527.5 189.1 532.1 191.0 536.7 193.4 541.1 196.0M516.1 189.0 520.9 191.5 525.4 193.5 529.7 195.5M513.6 193.7 518.2 196.3M490.3 183.7 487.1 187.4 483.7 191.2M496.6 184.0 493.5 187.3 490.1 190.8 486.7 194.4 483.6 197.8M503.1 184.0 500.0 187.0 496.6 190.1 493.1 193.5 489.8 196.9M506.8 186.7 503.4 189.7 499.8 192.9 496.3 196.2M510.4 189.7 506.8 193.0 503.2 196.4M513.9 193.4 510.2 196.9M503.4 184.0 507.1 186.7 510.8 189.7 514.3 193.4M497.0 184.0 500.3 187.0 503.8 189.7 507.2 193.0 510.5 196.9M490.6 183.7 493.8 187.3 496.9 190.1 500.1 192.9 503.5 196.4M487.4 187.4 490.4 190.8 493.4 193.5 496.7 196.2M484.0 191.2 487.0 194.4 490.1 196.8M480.7 194.9 483.9 197.8M297.2 71.5 292.6 73.5 287.8 75.8M309.6 71.7 304.4 73.8 299.2 76.0 294.2 78.3 289.5 80.8M327.0 69.6 322.6 71.7 317.8 73.8 312.4 76.0 306.9 78.2 301.4 80.5 296.3 82.8 291.5 85.2M319.8 79.2 314.4 81.8 308.9 84.1 303.6 86.1 298.6 88.0 293.8 90.0M315.8 87.5 310.8 89.9 305.8 91.9 300.9 93.7M313.0 94.2 308.2 96.3M323.5 68.4 326.2 73.1M318.9 70.5 321.6 75.3M314.0 72.6 316.5 77.7 317.9 83.5M305.7 70.9 308.6 74.8 310.9 80.0 312.6 86.1 314.4 91.1M300.8 72.8 303.1 77.0 305.4 82.2 307.4 88.3 309.6 93.3 312.1 97.2M294.2 70.0 295.9 75.0 297.9 79.4 300.1 84.3 302.4 90.1 304.7 95.3M289.6 72.0 291.1 77.3 293.0 81.8 295.2 86.4 297.5 91.9M202.1 182.0 198.5 185.9 194.7 189.7 190.7 193.3 186.7 196.6M206.0 186.0 202.5 189.9 198.7 193.5 194.8 196.8M209.6 189.7 205.9 193.5 202.1 196.9M212.8 193.5 208.8 197.2M197.1 181.6 201.1 186.0 204.9 189.9 208.2 193.5 211.1 197.2M193.3 185.4 197.4 189.9 201.2 193.5 204.3 197.0M189.3 189.3 193.4 193.4 197.3 196.8M185.2 192.9 189.4 196.7M455.7 174.8 452.4 178.7 449.2 183.1M466.8 165.5 464.8 169.6 462.3 173.4 459.1 177.0 455.8 181.1 452.8 185.7 450.3 190.4 448.0 194.9M471.4 168.3 469.0 172.3 466.1 176.0 462.8 179.9 459.6 184.2 457.0 188.9 454.9 193.5 452.8 197.8M475.9 171.2 473.3 175.1 470.2 178.9 466.9 183.0 464.0 187.5 461.8 192.1 459.8 196.4M480.3 173.6 477.6 177.5 474.6 181.5 471.5 185.9 468.9 190.6 466.7 195.0M482.1 179.7 479.2 184.2 476.2 189.0 473.6 193.8 471.1 198.0M486.4 182.5 483.5 187.4 480.5 192.3 477.8 196.8M466.1 169.4 470.4 172.1 474.8 174.8 479.2 177.1 483.6 179.3M459.8 170.7 463.7 173.1 467.6 175.8 471.7 178.6 476.2 181.1 480.7 183.8 485.0 187.0M457.1 174.4 460.6 176.8 464.3 179.7 468.5 182.7 473.1 185.6 477.7 188.7 482.0 192.0M453.8 178.3 457.2 180.8 461.1 184.0 465.6 187.2 470.4 190.3 475.0 193.5 479.2 196.5M447.0 180.5 450.5 182.7 454.2 185.3 458.4 188.6 463.2 191.8 468.1 194.8 472.5 197.8M447.7 187.2 451.7 190.0 456.3 193.2 461.2 196.1M449.4 194.6 454.2 197.5M185.3 69.3 182.3 73.0M192.1 68.8 188.8 72.4 185.9 76.1M199.8 68.0 196.1 71.8 193.0 75.6 190.1 79.6 186.9 83.8M204.1 71.3 200.8 75.2 197.8 79.3 194.8 83.7 191.2 87.9M211.9 70.5 208.4 74.4 205.4 78.5 202.4 82.9 199.1 87.3M215.6 73.5 212.4 77.5 209.5 81.7M212.4 70.4 216.1 73.5M200.4 67.9 204.7 71.2 209.0 74.4 212.9 77.4M192.7 68.7 196.7 71.8 201.3 75.2 205.9 78.4 210.0 81.6M185.8 69.3 189.3 72.3 193.6 75.6 198.4 79.3 203.0 82.8M179.4 69.5 182.8 73.0 186.4 76.0 190.7 79.6 195.3 83.6 199.6 87.2M187.5 83.8 191.8 87.9M593.7 239.2 591.5 243.6M599.5 236.7 597.8 241.4 595.2 245.6M605.4 234.2 603.8 238.9 601.6 243.5M611.9 232.2 610.0 236.6 608.0 241.1 605.5 245.4M619.1 230.7 616.6 234.6 614.5 238.6 612.4 242.8M621.1 236.4 619.0 240.3 617.1 244.7M625.4 238.2 623.5 242.6M629.4 240.7 627.8 245.7M610.2 232.7 614.9 235.1 619.4 236.9 623.7 238.7 627.9 241.2M603.8 234.8 608.3 237.2 612.8 239.2 617.4 240.9 621.9 243.1M593.6 235.2 598.1 237.4 602.2 239.6 606.3 241.7 610.7 243.5M592.1 239.9 596.2 242.0 599.9 244.1M316.4 124.3 311.9 126.4 307.3 128.5 302.8 130.7 298.5 132.9 294.4 135.3 290.4 137.6M319.1 128.9 314.7 131.1 310.3 133.2 305.9 135.2 301.6 137.1 297.1 139.0 292.6 141.1M321.3 133.5 317.2 136.0 313.0 138.1 308.8 140.0 304.3 141.8 299.5 143.6 294.6 145.5M327.0 135.0 322.9 137.6 318.9 140.1 315.0 142.2 310.8 144.2 306.3 146.0 301.3 148.0 296.3 150.3M328.4 139.2 324.3 141.6 320.4 143.7 316.5 145.8 312.3 147.8 307.7 149.8 303.0 152.1 298.2 154.5M330.6 143.7 326.3 145.9 322.2 147.9 318.0 150.0 313.8 152.1 309.4 154.2 305.0 156.4 300.8 158.7M324.5 152.6 320.1 155.0 315.8 157.3 311.6 159.4 307.7 161.5M321.7 129.9 323.6 134.2 325.0 138.2 326.7 142.3 329.0 146.8M312.2 123.1 314.9 127.4 317.5 132.2 319.6 136.8 321.1 140.6 322.6 144.5 324.8 148.9M307.6 125.2 310.4 129.4 313.2 134.4 315.6 139.1 317.2 142.8 318.7 146.6 320.5 151.1 322.8 156.0M303.0 127.4 305.8 131.5 308.9 136.4 311.4 141.1 313.2 144.8 314.6 148.6 316.3 153.2 318.4 158.4M298.5 129.7 301.4 133.7 304.5 138.3 307.1 142.9 308.8 146.8 310.2 150.6 311.9 155.4 314.2 160.7M294.4 132.2 297.2 135.8 300.0 140.1 302.3 144.7 304.0 148.8 305.6 152.8 307.7 157.5 310.3 162.8M290.5 134.6 293.0 138.0 295.4 141.9 297.3 146.6 299.0 151.1 301.0 155.1 303.6 159.7M446.7 67.9 444.4 72.3M451.0 70.3 448.7 74.4 446.7 78.8M457.9 68.2 455.7 72.2 453.5 76.2 451.6 80.7M462.8 70.2 460.8 74.2 458.8 78.4 456.8 83.1M469.6 67.8 467.9 72.2 466.1 76.3 464.0 80.8 461.9 85.8M464.5 69.6 469.6 71.7M452.6 69.8 457.4 71.7 462.6 73.7 467.7 75.8M441.8 69.5 446.0 71.8 450.3 73.9 455.3 75.7 460.6 77.9 465.7 80.2M453.3 80.1 458.6 82.6 463.5 85.2M104.1 191.9 101.8 197.0 100.0 201.8M114.3 184.4 111.9 188.7 109.1 193.5 106.8 198.7 105.0 203.7 103.4 208.6M121.4 182.0 119.6 186.0 117.1 190.5 114.3 195.7 112.1 201.2 110.4 206.2 108.7 210.9M124.6 188.0 122.1 193.1 119.5 198.8M117.4 204.0 115.8 208.5 113.9 212.6M129.2 190.6 126.8 196.1M133.7 193.1 131.4 198.4M116.1 183.8 121.4 185.4 126.3 187.5 130.8 190.0M113.9 188.0 119.0 189.9 123.9 192.5 128.6 195.4 133.1 197.6M106.0 191.1 111.1 192.7 116.3 195.1 121.3 198.1M98.7 194.5 103.5 196.1 108.5 197.9 113.8 200.6 119.1 203.5M96.9 199.6 101.6 201.0 106.7 203.0 112.1 205.7 117.4 208.0M110.5 210.3 115.7 211.9 120.3 213.4M554.7 91.6 551.4 95.3 547.9 99.4M558.5 95.3 554.9 99.5 551.0 103.9 547.0 108.1M565.9 95.8 562.3 99.7 558.7 103.9 554.7 108.1 550.8 112.0 547.3 115.3M573.0 96.2 569.6 99.6 566.4 103.4 562.8 107.3 559.0 111.1 555.3 114.5 551.9 117.8M573.5 102.9 570.5 106.6 567.0 110.3 563.3 113.8 559.7 117.2 556.2 120.8M577.4 106.7 574.2 110.4 570.6 114.0 566.9 117.4 563.3 120.9 559.7 124.9M581.0 110.8 577.4 114.6 573.7 118.0 570.0 121.3 566.4 124.8 562.8 128.8M565.8 95.8 569.6 99.6 573.4 102.9 577.3 106.7M554.6 91.6 558.4 95.3 562.3 99.7 566.3 103.4 570.4 106.6 574.1 110.4 577.4 114.6 580.5 118.0M547.7 92.3 551.3 95.3 554.8 99.5 558.6 103.9 562.7 107.3 566.9 110.3 570.5 114.0 573.6 118.0 576.6 121.3M547.8 99.4 550.9 103.9 554.6 108.1 558.9 111.1 563.2 113.8 566.9 117.4 569.9 121.3M547.0 108.1 550.7 112.0 555.2 114.5 559.6 117.2 563.3 120.9 566.4 124.8M547.2 115.3 551.8 117.8 556.1 120.8M305.1 160.6 300.8 162.6M316.1 162.0 312.0 164.1 308.0 165.9 303.8 167.6 299.2 169.4M322.9 164.0 318.5 166.4 314.4 168.4 310.3 170.2 305.8 172.0 300.9 174.0 295.8 176.2 290.7 178.7M325.1 168.0 320.7 170.0 316.4 171.9 311.9 173.8 307.0 175.8 301.9 178.0 296.9 180.6 292.2 183.2 287.9 185.7M327.5 172.3 322.9 174.3 318.2 176.2 313.3 178.2 308.3 180.3 303.4 182.5 298.7 184.8 294.3 187.3M330.0 176.9 325.2 179.3 320.2 181.6 315.2 183.9 310.5 186.0 306.0 188.0M332.3 181.6 327.3 184.3 322.3 186.9 317.7 189.4 313.4 191.5M329.1 189.0 324.4 191.5 320.1 193.7M320.2 163.3 322.4 167.3 324.7 171.3 327.1 175.9 329.4 180.7 331.4 185.6M313.4 160.7 315.9 165.6 318.2 169.3 320.2 173.2 322.3 178.1 324.4 183.3 326.4 188.2 328.2 192.7M309.2 162.7 311.9 167.6 313.9 171.2 315.6 175.1 317.3 180.3 319.5 185.9 321.7 190.7 323.8 194.8M302.1 159.3 305.2 164.5 307.7 169.3 309.4 173.1 310.7 177.0 312.4 182.4 314.8 188.2 317.5 192.9M300.9 166.3 303.2 171.1 304.5 175.1 305.6 179.1 307.5 184.4 310.5 190.2M298.3 173.0 299.4 177.4 300.7 181.5 303.0 186.5M293.1 175.2 294.4 179.9 296.0 184.1 298.6 188.6M289.7 182.5 291.6 186.6M366.0 182.8 364.8 187.5 363.0 192.6M370.9 184.8 369.5 189.6 367.5 194.5 364.8 199.1M376.8 182.3 375.7 186.8 374.1 191.2 371.8 195.7 369.2 200.1M381.6 184.2 380.3 188.2 378.5 192.3 376.2 196.7M384.6 189.4 382.7 193.6 380.6 198.4M387.0 195.6 385.0 200.8M373.3 183.7 378.1 185.7 382.7 187.1M362.5 184.5 367.3 186.4 372.1 188.4 376.7 189.9 381.0 191.0 385.2 192.5 389.4 194.6M365.7 191.4 370.2 193.1 374.6 194.2 378.9 195.4 383.2 197.2M363.3 196.4 367.6 197.7 372.0 198.7M86.5 232.6 82.0 234.2M92.6 235.4 88.2 237.2 83.7 239.0 79.1 240.8M98.4 238.5 93.9 240.3 89.5 242.1 85.1 243.8 80.6 245.5 76.0 247.2M104.5 241.5 99.8 243.5 95.2 245.4 90.9 247.1M115.9 241.3 111.1 243.3 106.1 245.5 101.3 247.7M111.2 240.0 112.9 243.8M106.3 242.1 108.0 245.9M100.1 239.4 101.5 244.2 103.1 248.1M94.2 236.2 95.5 241.2 96.9 246.2M88.3 233.4 89.8 238.0 91.1 243.0 92.5 247.9M81.7 230.4 83.8 235.1 85.4 239.8 86.7 244.7 88.2 249.4M79.1 236.7 80.8 241.7 82.3 246.3M418.3 71.5 415.0 74.7M426.0 71.5 422.7 74.7 419.3 77.9M436.9 68.0 433.5 71.2 430.2 74.6 426.9 78.1 423.1 81.5M443.6 68.2 440.2 71.4 436.9 74.9 433.8 78.6M440.8 68.0 443.8 71.7M433.7 68.1 437.3 71.3 440.5 75.1M430.3 71.3 434.1 74.7 437.3 78.8M422.7 71.6 427.0 74.6 430.9 78.4M415.1 71.3 419.3 74.7 423.6 78.0 427.3 82.0M415.9 78.0 419.8 81.3M596.9 174.1 592.2 176.4 587.4 178.6M599.6 178.1 595.1 180.8 590.4 183.5 585.2 186.2 579.8 188.8 574.3 191.2M601.8 182.5 597.3 185.5 592.6 188.5 587.4 191.3 582.2 193.9 577.2 196.2M603.5 187.8 598.9 190.7 594.1 193.6 589.3 196.1 584.5 198.3 580.0 200.5M605.7 192.9 600.8 195.8 596.1 198.4 591.6 200.8 587.2 203.0 582.9 205.1 578.4 207.5M608.6 197.5 603.6 200.1 599.0 202.7 594.7 205.3 590.4 207.9 585.8 210.4M592.6 173.1 595.7 177.3 598.3 181.5 600.1 186.5 601.9 191.8 604.2 196.6 607.3 200.9M587.8 175.2 591.0 179.7 593.7 184.4 595.5 189.5 597.1 194.6 599.4 199.3 602.5 203.4M586.1 182.2 588.7 187.3 590.6 192.3 592.3 197.2 594.8 201.8 598.1 206.1M580.8 184.6 583.4 190.0 585.5 194.8 587.7 199.4 590.6 204.1 593.8 208.8M578.0 192.5 580.6 197.2 583.3 201.5 586.3 206.4 589.2 211.5M578.9 203.8 581.7 208.8" fill="none" stroke="#000" stroke-width="0.7" stroke-opacity="0.86"/></g>
<path d="M69.4 66.6 L76.4 66.8 L83.5 67.0 L90.5 67.2 L97.5 67.4 L104.6 67.6 L111.6 67.8 L118.6 68.0 L125.7 68.2 L132.7 68.4 L139.8 68.6 L146.8 68.8 L153.8 69.0 L160.9 69.2 L167.9 69.4 L174.9 69.6 L182.0 69.7 L189.0 69.8 L196.0 69.9 L203.1 70.0 L210.1 70.1 L217.1 70.2 L224.2 70.3 L231.2 70.5 L238.3 70.6 L245.3 70.7 L252.3 70.8 L259.4 70.9 L266.4 70.9 L273.4 71.0 L280.5 71.0 L287.5 71.1 L294.5 71.1 L301.6 71.2 L308.6 71.2 L315.6 71.1 L322.7 70.9 L329.7 70.5 L336.7 70.1 L343.8 69.8 L350.8 69.8 L357.9 70.1 L364.9 70.6 L371.9 70.9 L379.0 71.0 L386.0 71.0 L393.0 70.8 L400.1 70.7 L407.1 70.5 L414.1 70.4 L421.2 70.2 L428.2 70.0 L435.2 69.8 L442.3 69.5 L449.3 69.2 L456.3 68.9 L463.4 68.7 L470.4 68.4 L477.5 68.1 L484.5 67.8 L491.5 67.6 L498.6 67.3 L505.6 67.1 L512.6 66.8 L519.7 66.6 L526.7 66.3 L533.7 66.1 L540.8 65.9 L547.8 65.7 L554.8 65.5 L561.9 65.3 L568.9 65.1 L576.0 64.8 L583.0 64.6 L590.0 64.4 L597.1 64.2 L604.1 64.0 L611.1 63.8 L618.2 63.6 L625.2 63.4 L626.6 120.0 L628.4 180.0 L629.4 243.9 L581.6 243.8 L578.4 239.8 L577.2 199.5 L577.0 197.0 L574.2 193.8 L570.0 193.8 L562.5 194.0 L554.9 194.3 L547.4 194.5 L539.8 194.7 L532.3 194.9 L524.7 195.1 L517.2 195.3 L509.7 195.5 L502.1 195.7 L494.6 195.9 L487.0 196.0 L479.5 196.2 L471.9 196.4 L464.4 196.5 L456.9 196.7 L449.3 196.9 L441.8 197.0 L434.2 197.2 L426.7 197.4 L419.2 197.5 L411.6 197.7 L404.1 197.9 L396.5 198.0 L389.0 198.2 L381.4 198.5 L373.9 198.9 L366.4 199.7 L358.8 200.7 L351.3 201.5 L343.7 201.7 L336.2 201.2 L328.6 200.5 L321.1 199.8 L313.6 199.4 L306.0 199.2 L298.5 199.0 L290.9 199.0 L283.4 198.9 L275.8 198.8 L268.3 198.7 L260.8 198.6 L253.2 198.5 L245.7 198.3 L238.1 198.2 L230.6 198.1 L223.1 197.9 L215.5 197.8 L208.0 197.7 L200.4 197.5 L192.9 197.4 L185.3 197.3 L177.8 197.1 L170.3 197.0 L162.7 196.9 L155.2 196.8 L147.6 196.7 L140.1 196.6 L132.5 196.5 L125.0 196.4 L122.2 196.2 L117.9 200.0 L117.6 242.4 L113.3 246.2 L66.3 246.2 L67.6 160.0Z" fill="none" stroke="#111" stroke-width="1"/>
<path d="M177 97H514M181 157.3H514" stroke="#111" stroke-width="1.3" stroke-dasharray="1.3 2.6" fill="none"/>
<path d="M522.3 97l-8.6 -3.4v6.8zM522.3 157.3l-8.6 -3.4v6.8z" fill="#000"/>
<g font-family="'DejaVu Sans','Liberation Sans',sans-serif" font-size="16.6px" fill="#000" fill-opacity="0.9" stroke="#000" stroke-width="0.2" stroke-opacity="0.9"><text x="177" y="92.6">Trace 1</text><text x="178.4" y="152.7">Trace 2</text></g>
<g font-family="'Liberation Sans',sans-serif" font-size="12.4px" fill="#222" text-anchor="middle"><text x="90.9" y="270.6" font-size="12.8px">150</text><text x="176.7" y="270.6" font-size="12.8px">100</text><text x="262.5" y="270.6" font-size="12.8px">50</text><text x="348.3" y="270.6" font-size="12.8px">0</text><text x="433.5" y="270.6" font-size="12.8px">-50</text><text x="519.3" y="270.6" font-size="12.8px">-100</text><text x="605.1" y="270.6" font-size="12.8px">-150</text><text x="348" y="298">X</text><text transform="translate(655.3 79.5) rotate(-90)" font-size="13.5px">40</text><text transform="translate(655.3 113.8) rotate(-90)" font-size="13.5px">20</text><text transform="translate(655.3 148.1) rotate(-90)" font-size="13.5px">0</text><text transform="translate(655.3 182.4) rotate(-90)" font-size="13.5px">-20</text><text transform="translate(655.3 216.7) rotate(-90)" font-size="13.5px">-40</text><text transform="translate(681.6 155.1) rotate(-90)">Y</text></g><g font-family="'DejaVu Sans','Liberation Sans',sans-serif" font-size="12.05px" fill="#222"><text x="98.1" y="312.1">Wire artefact</text><text x="515.4" y="312.2">Wire artefact</text></g>
<g stroke="#ee6070" stroke-width="0.9" fill="none"><path d="M94.8 307.5C91 296 104 268 114.2 249.5"/><path d="M595 307C600.5 304.5 601 299 598.6 294.5C594 286 580 273 569.2 260C563 252 558.5 243 557.4 234C557 226 562 223.2 574 223.2"/></g>
<path d="M115.2 247.6l-3.6 4.6l3 1.6zM577.6 223.3l-5.6 -2v4.2z" fill="#ee6070"/>
<g font-family="'DejaVu Sans','Liberation Sans',sans-serif" fill="#1f1f1f">
<g fill="#1f77b4"><circle cx="108.7" cy="718.7" r="5.05"/><circle cx="117.7" cy="711.5" r="5.05"/><circle cx="127.3" cy="708.5" r="5.05"/><circle cx="136.9" cy="709.5" r="5.05"/><circle cx="146.7" cy="711.9" r="5.05"/><circle cx="156.7" cy="708.5" r="5.05"/><circle cx="166.5" cy="701.9" r="5.05"/><circle cx="176.1" cy="694.6" r="5.05"/><circle cx="185.7" cy="691.1" r="5.05"/><circle cx="195.6" cy="693.5" r="5.05"/><circle cx="205.4" cy="693.5" r="5.05"/><circle cx="214.7" cy="689.0" r="5.05"/><circle cx="224.0" cy="676.1" r="5.05"/><circle cx="233.5" cy="667.8" r="5.05"/><circle cx="243.4" cy="667.4" r="5.05"/><circle cx="253.0" cy="668.6" r="5.05"/><circle cx="263.0" cy="668.0" r="5.05"/><circle cx="272.8" cy="673.8" r="5.05"/><circle cx="282.6" cy="679.3" r="5.05"/><circle cx="292.3" cy="653.4" r="5.05"/><circle cx="302.1" cy="592.6" r="5.05"/><circle cx="310.8" cy="507.0" r="5.05"/><circle cx="320.8" cy="421.2" r="5.05"/><circle cx="330.4" cy="369.3" r="5.05"/><circle cx="340.2" cy="366.9" r="5.05"/><circle cx="350.0" cy="365.0" r="5.05"/><circle cx="359.8" cy="362.8" r="5.05"/><circle cx="369.4" cy="380.2" r="5.05"/><circle cx="379.2" cy="463.5" r="5.05"/><circle cx="389.0" cy="550.3" r="5.05"/><circle cx="397.7" cy="616.1" r="5.05"/><circle cx="407.4" cy="649.9" r="5.05"/><circle cx="417.2" cy="656.2" r="5.05"/><circle cx="426.8" cy="658.7" r="5.05"/><circle cx="436.6" cy="667.0" r="5.05"/><circle cx="446.4" cy="682.8" r="5.05"/><circle cx="456.0" cy="692.4" r="5.05"/><circle cx="465.9" cy="698.9" r="5.05"/><circle cx="475.9" cy="692.4" r="5.05"/><circle cx="485.3" cy="685.9" r="5.05"/><circle cx="494.3" cy="687.0" r="5.05"/><circle cx="504.0" cy="692.1" r="5.05"/><circle cx="513.8" cy="699.9" r="5.05"/><circle cx="523.6" cy="704.4" r="5.05"/><circle cx="533.2" cy="703.4" r="5.05"/><circle cx="543.0" cy="700.9" r="5.05"/><circle cx="552.9" cy="705.0" r="5.05"/><circle cx="562.7" cy="713.8" r="5.05"/><circle cx="572.5" cy="721.0" r="5.05"/><circle cx="582.1" cy="724.0" r="5.05"/><circle cx="591.0" cy="727.3" r="5.05"/></g>
<g fill="#f8801a"><circle cx="108.7" cy="702.9" r="5.05"/><circle cx="117.7" cy="698.9" r="5.05"/><circle cx="127.3" cy="692.1" r="5.05"/><circle cx="136.9" cy="690.1" r="5.05"/><circle cx="146.7" cy="690.1" r="5.05"/><circle cx="156.7" cy="688.0" r="5.05"/><circle cx="166.5" cy="682.5" r="5.05"/><circle cx="176.1" cy="679.2" r="5.05"/><circle cx="185.7" cy="679.2" r="5.05"/><circle cx="195.6" cy="680.3" r="5.05"/><circle cx="205.4" cy="678.4" r="5.05"/><circle cx="214.7" cy="671.9" r="5.05"/><circle cx="224.0" cy="662.7" r="5.05"/><circle cx="233.5" cy="661.7" r="5.05"/><circle cx="243.4" cy="667.4" r="5.05"/><circle cx="253.0" cy="672.7" r="5.05"/><circle cx="263.0" cy="675.8" r="5.05"/><circle cx="272.8" cy="685.8" r="5.05"/><circle cx="282.6" cy="699.7" r="5.05"/><circle cx="292.3" cy="706.2" r="5.05"/><circle cx="302.1" cy="696.6" r="5.05"/><circle cx="310.8" cy="651.0" r="5.05"/><circle cx="320.8" cy="602.4" r="5.05"/><circle cx="330.4" cy="571.8" r="5.05"/><circle cx="340.2" cy="585.0" r="5.05"/><circle cx="350.0" cy="589.3" r="5.05"/><circle cx="359.8" cy="570.7" r="5.05"/><circle cx="369.4" cy="566.5" r="5.05"/><circle cx="379.2" cy="613.3" r="5.05"/><circle cx="389.0" cy="664.4" r="5.05"/><circle cx="397.7" cy="682.8" r="5.05"/><circle cx="407.4" cy="682.8" r="5.05"/><circle cx="417.2" cy="677.3" r="5.05"/><circle cx="426.8" cy="673.0" r="5.05"/><circle cx="436.6" cy="673.6" r="5.05"/><circle cx="446.4" cy="679.3" r="5.05"/><circle cx="456.0" cy="683.4" r="5.05"/><circle cx="465.9" cy="680.3" r="5.05"/><circle cx="475.9" cy="671.7" r="5.05"/><circle cx="485.3" cy="661.8" r="5.05"/><circle cx="494.3" cy="668.5" r="5.05"/><circle cx="504.0" cy="678.2" r="5.05"/><circle cx="513.8" cy="681.5" r="5.05"/><circle cx="523.6" cy="680.5" r="5.05"/><circle cx="533.2" cy="681.5" r="5.05"/><circle cx="543.0" cy="683.6" r="5.05"/><circle cx="552.9" cy="685.8" r="5.05"/><circle cx="562.7" cy="687.9" r="5.05"/><circle cx="572.5" cy="698.9" r="5.05"/><circle cx="582.1" cy="711.8" r="5.05"/><circle cx="591.0" cy="712.8" r="5.05"/></g>
<rect x="80.8" y="345.4" width="539.0" height="399.9" fill="none" stroke="#1a1a1a" stroke-width="1.1"/>
<path d="M108.9 745.3v5M169.1 745.3v5M229.3 745.3v5M289.6 745.3v5M349.8 745.3v5M410.0 745.3v5M470.2 745.3v5M530.5 745.3v5M590.7 745.3v5M80.8 687.4h-5M80.8 627.2h-5M80.8 567.1h-5M80.8 506.9h-5M80.8 446.8h-5M80.8 386.6h-5" stroke="#1a1a1a" stroke-width="1.1" fill="none"/>
<g font-size="14.5px">
<text x="108.9" y="768" text-anchor="middle">0</text>
<text x="169.1" y="768" text-anchor="middle">25</text>
<text x="229.3" y="768" text-anchor="middle">50</text>
<text x="289.6" y="768" text-anchor="middle">75</text>
<text x="349.8" y="768" text-anchor="middle">100</text>
<text x="410.0" y="768" text-anchor="middle">125</text>
<text x="470.2" y="768" text-anchor="middle">150</text>
<text x="530.5" y="768" text-anchor="middle">175</text>
<text x="590.7" y="768" text-anchor="middle">200</text>
<text x="69.4" y="692.4" text-anchor="end">0</text>
<text x="69.4" y="632.2" text-anchor="end">100</text>
<text x="69.4" y="572.1" text-anchor="end">200</text>
<text x="69.4" y="511.9" text-anchor="end">300</text>
<text x="69.4" y="451.8" text-anchor="end">400</text>
<text x="69.4" y="391.6" text-anchor="end">500</text>
<text x="349.2" y="788" text-anchor="middle" font-size="15.2px">Distance along probe line</text>
<text transform="translate(31.3 546) rotate(-90)" text-anchor="middle" font-size="15.2px">Stress component: S33</text>
</g>
<g font-size="16.7px"><text x="260" y="369.4">Trace 1</text><text x="260" y="567.6">Trace 2</text></g>
</g>
</svg></body></html>
